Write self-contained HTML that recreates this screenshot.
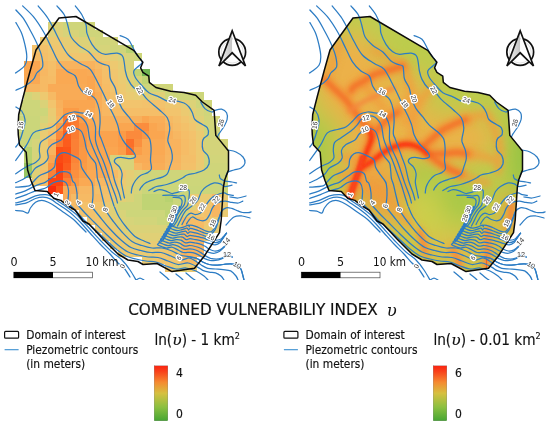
<!DOCTYPE html>
<html><head><meta charset="utf-8"><title>Combined vulnerability index</title>
<style>html,body{margin:0;padding:0;background:#fff}svg{display:block}</style></head>
<body><svg width="550" height="426" viewBox="0 0 550 426"><defs>
<clipPath id="mapL"><rect x="0" y="0" width="262" height="280"/></clipPath>
<clipPath id="mapR"><rect x="288" y="0" width="262" height="280"/></clipPath>
<clipPath id="domL"><polygon points="59.0,18.0 76.0,16.5 133.7,50.3 139.1,57.6 142.9,62.3 140.6,67.8 142.9,72.4 148.8,76.2 149.3,82.3 155.9,87.5 170.6,91.3 184.0,92.5 195.7,95.2 202.4,102.0 214.1,110.3 215.8,135.4 228.5,151.0 228.5,170.0 224.7,180.0 223.3,187.7 222.5,200.5 221.2,220.0 219.5,232.7 212.9,242.9 204.0,256.5 194.5,268.3 172.0,271.6 157.0,263.5 143.0,264.5 138.0,261.5 128.0,260.0 118.0,254.0 103.0,239.0 89.0,224.0 83.0,221.0 75.0,210.0 67.3,205.5 60.9,200.4 53.9,198.5 47.3,191.5 35.0,190.5 31.0,180.5 27.6,170.0 26.2,152.2 19.5,145.0 18.3,135.0 18.0,128.0 18.7,114.5 23.4,96.0 30.1,71.0 36.0,50.0"/></clipPath>
<clipPath id="domR"><polygon points="353.0,18.0 370.0,16.5 427.7,50.3 433.1,57.6 436.9,62.3 434.6,67.8 436.9,72.4 442.8,76.2 443.3,82.3 449.9,87.5 464.6,91.3 478.0,92.5 489.7,95.2 496.4,102.0 508.1,110.3 509.8,135.4 522.5,151.0 522.5,170.0 518.7,180.0 517.3,187.7 516.5,200.5 515.2,220.0 513.5,232.7 506.9,242.9 498.0,256.5 488.5,268.3 466.0,271.6 451.0,263.5 437.0,264.5 432.0,261.5 422.0,260.0 412.0,254.0 397.0,239.0 383.0,224.0 377.0,221.0 369.0,210.0 361.3,205.5 354.9,200.4 347.9,198.5 341.3,191.5 329.0,190.5 325.0,180.5 321.6,170.0 320.2,152.2 313.5,145.0 312.3,135.0 312.0,128.0 312.7,114.5 317.4,96.0 324.1,71.0 330.0,50.0"/></clipPath>
<linearGradient id="ngr" x1="0" y1="0" x2="1" y2="0"><stop offset="0" stop-color="#f4f4f4"/><stop offset="1" stop-color="#c4c4c4"/></linearGradient>
<linearGradient id="lg" x1="0" y1="0" x2="0" y2="1">
<stop offset="0" stop-color="#fb2410"/><stop offset="0.1" stop-color="#f9401a"/><stop offset="0.3" stop-color="#f58a30"/><stop offset="0.5" stop-color="#d6c040"/><stop offset="0.75" stop-color="#8cc040"/><stop offset="1" stop-color="#46a632"/></linearGradient>
<filter id="b12" x="-20%" y="-20%" width="140%" height="140%"><feGaussianBlur stdDeviation="12"/></filter>
<filter id="b7" x="-20%" y="-20%" width="140%" height="140%"><feGaussianBlur stdDeviation="7"/></filter>
<filter id="b4" x="-20%" y="-20%" width="140%" height="140%"><feGaussianBlur stdDeviation="3.5"/></filter>
<filter id="b2" x="-20%" y="-20%" width="140%" height="140%"><feGaussianBlur stdDeviation="2"/></filter>
<filter id="b1" x="-20%" y="-20%" width="140%" height="140%"><feGaussianBlur stdDeviation="1.1"/></filter>
</defs><rect width="550" height="426" fill="#fff"/><g shape-rendering="crispEdges"><rect x="47.67" y="21.70" width="7.98" height="7.98" fill="#dad278"/><rect x="55.50" y="21.70" width="7.98" height="7.98" fill="#dad278"/><rect x="63.33" y="21.70" width="7.98" height="7.98" fill="#cfd57a"/><rect x="71.15" y="21.70" width="7.98" height="7.98" fill="#cfd57a"/><rect x="78.97" y="21.70" width="7.98" height="7.98" fill="#cfd57a"/><rect x="86.80" y="21.70" width="7.98" height="7.98" fill="#cfd57a"/><rect x="47.67" y="29.52" width="7.98" height="7.98" fill="#e0d076"/><rect x="55.50" y="29.52" width="7.98" height="7.98" fill="#e0d076"/><rect x="63.33" y="29.52" width="7.98" height="7.98" fill="#d8d379"/><rect x="71.15" y="29.52" width="7.98" height="7.98" fill="#d8d379"/><rect x="78.97" y="29.52" width="7.98" height="7.98" fill="#cfd57a"/><rect x="86.80" y="29.52" width="7.98" height="7.98" fill="#cfd57a"/><rect x="94.62" y="29.52" width="7.98" height="7.98" fill="#cfd57a"/><rect x="39.85" y="37.35" width="7.98" height="7.98" fill="#edc970"/><rect x="47.67" y="37.35" width="7.98" height="7.98" fill="#edc970"/><rect x="55.50" y="37.35" width="7.98" height="7.98" fill="#edc970"/><rect x="63.33" y="37.35" width="7.98" height="7.98" fill="#e6cd74"/><rect x="71.15" y="37.35" width="7.98" height="7.98" fill="#e6cd74"/><rect x="78.97" y="37.35" width="7.98" height="7.98" fill="#dcd278"/><rect x="86.80" y="37.35" width="7.98" height="7.98" fill="#dcd278"/><rect x="94.62" y="37.35" width="7.98" height="7.98" fill="#d2d57a"/><rect x="102.45" y="37.35" width="7.98" height="7.98" fill="#d2d57a"/><rect x="110.28" y="37.35" width="7.98" height="7.98" fill="#d2d57a"/><rect x="32.02" y="45.17" width="7.98" height="7.98" fill="#f3c16a"/><rect x="39.85" y="45.17" width="7.98" height="7.98" fill="#f3c16a"/><rect x="47.67" y="45.17" width="7.98" height="7.98" fill="#f0c66f"/><rect x="55.50" y="45.17" width="7.98" height="7.98" fill="#f0c66f"/><rect x="63.33" y="45.17" width="7.98" height="7.98" fill="#eacb72"/><rect x="71.15" y="45.17" width="7.98" height="7.98" fill="#eacb72"/><rect x="78.97" y="45.17" width="7.98" height="7.98" fill="#e0d076"/><rect x="86.80" y="45.17" width="7.98" height="7.98" fill="#e0d076"/><rect x="94.62" y="45.17" width="7.98" height="7.98" fill="#d6d47a"/><rect x="102.45" y="45.17" width="7.98" height="7.98" fill="#d6d47a"/><rect x="110.28" y="45.17" width="7.98" height="7.98" fill="#cfd57a"/><rect x="118.10" y="45.17" width="7.98" height="7.98" fill="#cfd57a"/><rect x="125.92" y="45.17" width="7.98" height="7.98" fill="#b8d270"/><rect x="32.02" y="53.00" width="7.98" height="7.98" fill="#f6ba64"/><rect x="39.85" y="53.00" width="7.98" height="7.98" fill="#f4bf69"/><rect x="47.67" y="53.00" width="7.98" height="7.98" fill="#f2c46d"/><rect x="55.50" y="53.00" width="7.98" height="7.98" fill="#f1c56e"/><rect x="63.33" y="53.00" width="7.98" height="7.98" fill="#f1c56e"/><rect x="71.15" y="53.00" width="7.98" height="7.98" fill="#f0c66f"/><rect x="78.97" y="53.00" width="7.98" height="7.98" fill="#f0c66f"/><rect x="86.80" y="53.00" width="7.98" height="7.98" fill="#f1c56e"/><rect x="94.62" y="53.00" width="7.98" height="7.98" fill="#eec770"/><rect x="102.45" y="53.00" width="7.98" height="7.98" fill="#eacb72"/><rect x="110.28" y="53.00" width="7.98" height="7.98" fill="#e4ce74"/><rect x="118.10" y="53.00" width="7.98" height="7.98" fill="#dcd278"/><rect x="125.92" y="53.00" width="7.98" height="7.98" fill="#d6d47a"/><rect x="133.75" y="53.00" width="7.98" height="7.98" fill="#cdd67a"/><rect x="24.20" y="60.83" width="7.98" height="7.98" fill="#faa650"/><rect x="32.02" y="60.83" width="7.98" height="7.98" fill="#faa650"/><rect x="39.85" y="60.83" width="7.98" height="7.98" fill="#f6ba64"/><rect x="47.67" y="60.83" width="7.98" height="7.98" fill="#f4bf69"/><rect x="55.50" y="60.83" width="7.98" height="7.98" fill="#f8b35e"/><rect x="63.33" y="60.83" width="7.98" height="7.98" fill="#f8b35e"/><rect x="71.15" y="60.83" width="7.98" height="7.98" fill="#f8b35e"/><rect x="78.97" y="60.83" width="7.98" height="7.98" fill="#f8b35e"/><rect x="86.80" y="60.83" width="7.98" height="7.98" fill="#f8b35e"/><rect x="94.62" y="60.83" width="7.98" height="7.98" fill="#f6ba64"/><rect x="102.45" y="60.83" width="7.98" height="7.98" fill="#f3c16a"/><rect x="110.28" y="60.83" width="7.98" height="7.98" fill="#edc970"/><rect x="118.10" y="60.83" width="7.98" height="7.98" fill="#e4ce74"/><rect x="125.92" y="60.83" width="7.98" height="7.98" fill="#dad278"/><rect x="24.20" y="68.65" width="7.98" height="7.98" fill="#faa650"/><rect x="32.02" y="68.65" width="7.98" height="7.98" fill="#faa650"/><rect x="39.85" y="68.65" width="7.98" height="7.98" fill="#f7b762"/><rect x="47.67" y="68.65" width="7.98" height="7.98" fill="#f5be68"/><rect x="55.50" y="68.65" width="7.98" height="7.98" fill="#faa953"/><rect x="63.33" y="68.65" width="7.98" height="7.98" fill="#faa953"/><rect x="71.15" y="68.65" width="7.98" height="7.98" fill="#faa953"/><rect x="78.97" y="68.65" width="7.98" height="7.98" fill="#faa953"/><rect x="86.80" y="68.65" width="7.98" height="7.98" fill="#f9ab56"/><rect x="94.62" y="68.65" width="7.98" height="7.98" fill="#f7b560"/><rect x="102.45" y="68.65" width="7.98" height="7.98" fill="#f4bf69"/><rect x="110.28" y="68.65" width="7.98" height="7.98" fill="#f0c66f"/><rect x="118.10" y="68.65" width="7.98" height="7.98" fill="#e8cc73"/><rect x="125.92" y="68.65" width="7.98" height="7.98" fill="#dcd278"/><rect x="133.75" y="68.65" width="7.98" height="7.98" fill="#c0d474"/><rect x="141.57" y="68.65" width="7.98" height="7.98" fill="#70b452"/><rect x="24.20" y="76.47" width="7.98" height="7.98" fill="#faa953"/><rect x="32.02" y="76.47" width="7.98" height="7.98" fill="#faa953"/><rect x="39.85" y="76.47" width="7.98" height="7.98" fill="#f6ba64"/><rect x="47.67" y="76.47" width="7.98" height="7.98" fill="#f6bc66"/><rect x="55.50" y="76.47" width="7.98" height="7.98" fill="#faa953"/><rect x="63.33" y="76.47" width="7.98" height="7.98" fill="#faa953"/><rect x="71.15" y="76.47" width="7.98" height="7.98" fill="#faa953"/><rect x="78.97" y="76.47" width="7.98" height="7.98" fill="#faa953"/><rect x="86.80" y="76.47" width="7.98" height="7.98" fill="#faa650"/><rect x="94.62" y="76.47" width="7.98" height="7.98" fill="#f8b35e"/><rect x="102.45" y="76.47" width="7.98" height="7.98" fill="#f5be68"/><rect x="110.28" y="76.47" width="7.98" height="7.98" fill="#f1c56e"/><rect x="118.10" y="76.47" width="7.98" height="7.98" fill="#eacb72"/><rect x="125.92" y="76.47" width="7.98" height="7.98" fill="#e0d076"/><rect x="133.75" y="76.47" width="7.98" height="7.98" fill="#d6d47a"/><rect x="141.57" y="76.47" width="7.98" height="7.98" fill="#c0d474"/><rect x="24.20" y="84.30" width="7.98" height="7.98" fill="#f7b560"/><rect x="32.02" y="84.30" width="7.98" height="7.98" fill="#f7b560"/><rect x="39.85" y="84.30" width="7.98" height="7.98" fill="#f6ba64"/><rect x="47.67" y="84.30" width="7.98" height="7.98" fill="#f9ab56"/><rect x="55.50" y="84.30" width="7.98" height="7.98" fill="#f9ab56"/><rect x="63.33" y="84.30" width="7.98" height="7.98" fill="#f9ab56"/><rect x="71.15" y="84.30" width="7.98" height="7.98" fill="#f9ab56"/><rect x="78.97" y="84.30" width="7.98" height="7.98" fill="#f9ab56"/><rect x="86.80" y="84.30" width="7.98" height="7.98" fill="#faa650"/><rect x="94.62" y="84.30" width="7.98" height="7.98" fill="#f8b05b"/><rect x="102.45" y="84.30" width="7.98" height="7.98" fill="#f6bc66"/><rect x="110.28" y="84.30" width="7.98" height="7.98" fill="#f2c46d"/><rect x="118.10" y="84.30" width="7.98" height="7.98" fill="#edc970"/><rect x="125.92" y="84.30" width="7.98" height="7.98" fill="#e4ce74"/><rect x="133.75" y="84.30" width="7.98" height="7.98" fill="#dad278"/><rect x="141.57" y="84.30" width="7.98" height="7.98" fill="#cfd57a"/><rect x="149.40" y="84.30" width="7.98" height="7.98" fill="#cfd57a"/><rect x="157.22" y="84.30" width="7.98" height="7.98" fill="#cfd57a"/><rect x="165.05" y="84.30" width="7.98" height="7.98" fill="#cfd57a"/><rect x="24.20" y="92.12" width="7.98" height="7.98" fill="#d2d57a"/><rect x="32.02" y="92.12" width="7.98" height="7.98" fill="#dcd278"/><rect x="39.85" y="92.12" width="7.98" height="7.98" fill="#edc970"/><rect x="47.67" y="92.12" width="7.98" height="7.98" fill="#f6ba64"/><rect x="55.50" y="92.12" width="7.98" height="7.98" fill="#f9ab56"/><rect x="63.33" y="92.12" width="7.98" height="7.98" fill="#f9ab56"/><rect x="71.15" y="92.12" width="7.98" height="7.98" fill="#f9ab56"/><rect x="78.97" y="92.12" width="7.98" height="7.98" fill="#f9ab56"/><rect x="86.80" y="92.12" width="7.98" height="7.98" fill="#faa04b"/><rect x="94.62" y="92.12" width="7.98" height="7.98" fill="#f9ab56"/><rect x="102.45" y="92.12" width="7.98" height="7.98" fill="#f6ba64"/><rect x="110.28" y="92.12" width="7.98" height="7.98" fill="#f3c16a"/><rect x="118.10" y="92.12" width="7.98" height="7.98" fill="#eec770"/><rect x="125.92" y="92.12" width="7.98" height="7.98" fill="#eacb72"/><rect x="133.75" y="92.12" width="7.98" height="7.98" fill="#e6cd74"/><rect x="141.57" y="92.12" width="7.98" height="7.98" fill="#e0d076"/><rect x="149.40" y="92.12" width="7.98" height="7.98" fill="#e0d076"/><rect x="157.22" y="92.12" width="7.98" height="7.98" fill="#e0d076"/><rect x="165.05" y="92.12" width="7.98" height="7.98" fill="#cdd67a"/><rect x="172.88" y="92.12" width="7.98" height="7.98" fill="#cdd67a"/><rect x="180.70" y="92.12" width="7.98" height="7.98" fill="#cdd67a"/><rect x="188.53" y="92.12" width="7.98" height="7.98" fill="#cdd67a"/><rect x="196.35" y="92.12" width="7.98" height="7.98" fill="#cdd67a"/><rect x="24.20" y="99.95" width="7.98" height="7.98" fill="#cdd67a"/><rect x="32.02" y="99.95" width="7.98" height="7.98" fill="#cdd67a"/><rect x="39.85" y="99.95" width="7.98" height="7.98" fill="#dad278"/><rect x="47.67" y="99.95" width="7.98" height="7.98" fill="#f2c46d"/><rect x="55.50" y="99.95" width="7.98" height="7.98" fill="#f8b05b"/><rect x="63.33" y="99.95" width="7.98" height="7.98" fill="#faa650"/><rect x="71.15" y="99.95" width="7.98" height="7.98" fill="#faa650"/><rect x="78.97" y="99.95" width="7.98" height="7.98" fill="#faa650"/><rect x="86.80" y="99.95" width="7.98" height="7.98" fill="#faa650"/><rect x="94.62" y="99.95" width="7.98" height="7.98" fill="#f9ae58"/><rect x="102.45" y="99.95" width="7.98" height="7.98" fill="#f7b762"/><rect x="110.28" y="99.95" width="7.98" height="7.98" fill="#f4bf69"/><rect x="118.10" y="99.95" width="7.98" height="7.98" fill="#f2c46d"/><rect x="125.92" y="99.95" width="7.98" height="7.98" fill="#f2c46d"/><rect x="133.75" y="99.95" width="7.98" height="7.98" fill="#f2c46d"/><rect x="141.57" y="99.95" width="7.98" height="7.98" fill="#f3c26c"/><rect x="149.40" y="99.95" width="7.98" height="7.98" fill="#f3c26c"/><rect x="157.22" y="99.95" width="7.98" height="7.98" fill="#f3c26c"/><rect x="165.05" y="99.95" width="7.98" height="7.98" fill="#eec770"/><rect x="172.88" y="99.95" width="7.98" height="7.98" fill="#eec770"/><rect x="180.70" y="99.95" width="7.98" height="7.98" fill="#e6cd74"/><rect x="188.53" y="99.95" width="7.98" height="7.98" fill="#dcd278"/><rect x="196.35" y="99.95" width="7.98" height="7.98" fill="#cfd57a"/><rect x="204.18" y="99.95" width="7.98" height="7.98" fill="#cfd57a"/><rect x="24.20" y="107.78" width="7.98" height="7.98" fill="#cdd67a"/><rect x="32.02" y="107.78" width="7.98" height="7.98" fill="#cdd67a"/><rect x="39.85" y="107.78" width="7.98" height="7.98" fill="#cdd67a"/><rect x="47.67" y="107.78" width="7.98" height="7.98" fill="#eacb72"/><rect x="55.50" y="107.78" width="7.98" height="7.98" fill="#f8b35e"/><rect x="63.33" y="107.78" width="7.98" height="7.98" fill="#fb9b46"/><rect x="71.15" y="107.78" width="7.98" height="7.98" fill="#fb9b46"/><rect x="78.97" y="107.78" width="7.98" height="7.98" fill="#faa650"/><rect x="86.80" y="107.78" width="7.98" height="7.98" fill="#faa953"/><rect x="94.62" y="107.78" width="7.98" height="7.98" fill="#f8b05b"/><rect x="102.45" y="107.78" width="7.98" height="7.98" fill="#f7b762"/><rect x="110.28" y="107.78" width="7.98" height="7.98" fill="#f6bc66"/><rect x="118.10" y="107.78" width="7.98" height="7.98" fill="#f6bc66"/><rect x="125.92" y="107.78" width="7.98" height="7.98" fill="#f5be68"/><rect x="133.75" y="107.78" width="7.98" height="7.98" fill="#f5be68"/><rect x="141.57" y="107.78" width="7.98" height="7.98" fill="#f5be68"/><rect x="149.40" y="107.78" width="7.98" height="7.98" fill="#f5be68"/><rect x="157.22" y="107.78" width="7.98" height="7.98" fill="#f5be68"/><rect x="165.05" y="107.78" width="7.98" height="7.98" fill="#f2c46d"/><rect x="172.88" y="107.78" width="7.98" height="7.98" fill="#f2c46d"/><rect x="180.70" y="107.78" width="7.98" height="7.98" fill="#ebca71"/><rect x="188.53" y="107.78" width="7.98" height="7.98" fill="#e4ce74"/><rect x="196.35" y="107.78" width="7.98" height="7.98" fill="#d8d379"/><rect x="204.18" y="107.78" width="7.98" height="7.98" fill="#cfd57a"/><rect x="24.20" y="115.60" width="7.98" height="7.98" fill="#cbd67a"/><rect x="32.02" y="115.60" width="7.98" height="7.98" fill="#cbd67a"/><rect x="39.85" y="115.60" width="7.98" height="7.98" fill="#d6d47a"/><rect x="47.67" y="115.60" width="7.98" height="7.98" fill="#e6cd74"/><rect x="55.50" y="115.60" width="7.98" height="7.98" fill="#f7b762"/><rect x="63.33" y="115.60" width="7.98" height="7.98" fill="#fb7a30"/><rect x="71.15" y="115.60" width="7.98" height="7.98" fill="#fb7a30"/><rect x="78.97" y="115.60" width="7.98" height="7.98" fill="#fb9e49"/><rect x="86.80" y="115.60" width="7.98" height="7.98" fill="#faa953"/><rect x="94.62" y="115.60" width="7.98" height="7.98" fill="#f8b05b"/><rect x="102.45" y="115.60" width="7.98" height="7.98" fill="#f8b05b"/><rect x="110.28" y="115.60" width="7.98" height="7.98" fill="#f8b05b"/><rect x="118.10" y="115.60" width="7.98" height="7.98" fill="#f8b05b"/><rect x="125.92" y="115.60" width="7.98" height="7.98" fill="#f8b05b"/><rect x="133.75" y="115.60" width="7.98" height="7.98" fill="#f8b05b"/><rect x="141.57" y="115.60" width="7.98" height="7.98" fill="#faa650"/><rect x="149.40" y="115.60" width="7.98" height="7.98" fill="#f9ae58"/><rect x="157.22" y="115.60" width="7.98" height="7.98" fill="#f9ae58"/><rect x="165.05" y="115.60" width="7.98" height="7.98" fill="#f6ba64"/><rect x="172.88" y="115.60" width="7.98" height="7.98" fill="#f4bf69"/><rect x="180.70" y="115.60" width="7.98" height="7.98" fill="#f1c56e"/><rect x="188.53" y="115.60" width="7.98" height="7.98" fill="#ebca71"/><rect x="196.35" y="115.60" width="7.98" height="7.98" fill="#e0d076"/><rect x="204.18" y="115.60" width="7.98" height="7.98" fill="#d2d57a"/><rect x="212.00" y="115.60" width="7.98" height="7.98" fill="#d2d57a"/><rect x="24.20" y="123.42" width="7.98" height="7.98" fill="#cbd67a"/><rect x="32.02" y="123.42" width="7.98" height="7.98" fill="#cbd67a"/><rect x="39.85" y="123.42" width="7.98" height="7.98" fill="#e0d076"/><rect x="47.67" y="123.42" width="7.98" height="7.98" fill="#eec770"/><rect x="55.50" y="123.42" width="7.98" height="7.98" fill="#faa04b"/><rect x="63.33" y="123.42" width="7.98" height="7.98" fill="#fb6824"/><rect x="71.15" y="123.42" width="7.98" height="7.98" fill="#fb7d32"/><rect x="78.97" y="123.42" width="7.98" height="7.98" fill="#fb9542"/><rect x="86.80" y="123.42" width="7.98" height="7.98" fill="#faa650"/><rect x="94.62" y="123.42" width="7.98" height="7.98" fill="#f8b05b"/><rect x="102.45" y="123.42" width="7.98" height="7.98" fill="#f8b05b"/><rect x="110.28" y="123.42" width="7.98" height="7.98" fill="#f8b05b"/><rect x="118.10" y="123.42" width="7.98" height="7.98" fill="#faa650"/><rect x="125.92" y="123.42" width="7.98" height="7.98" fill="#faa650"/><rect x="133.75" y="123.42" width="7.98" height="7.98" fill="#fb8d3e"/><rect x="141.57" y="123.42" width="7.98" height="7.98" fill="#fb8d3e"/><rect x="149.40" y="123.42" width="7.98" height="7.98" fill="#faa650"/><rect x="157.22" y="123.42" width="7.98" height="7.98" fill="#f9ab56"/><rect x="165.05" y="123.42" width="7.98" height="7.98" fill="#f7b560"/><rect x="172.88" y="123.42" width="7.98" height="7.98" fill="#f6bc66"/><rect x="180.70" y="123.42" width="7.98" height="7.98" fill="#f3c16a"/><rect x="188.53" y="123.42" width="7.98" height="7.98" fill="#f0c66f"/><rect x="196.35" y="123.42" width="7.98" height="7.98" fill="#e6cd74"/><rect x="204.18" y="123.42" width="7.98" height="7.98" fill="#d2d57a"/><rect x="212.00" y="123.42" width="7.98" height="7.98" fill="#d2d57a"/><rect x="24.20" y="131.25" width="7.98" height="7.98" fill="#cbd67a"/><rect x="32.02" y="131.25" width="7.98" height="7.98" fill="#cbd67a"/><rect x="39.85" y="131.25" width="7.98" height="7.98" fill="#eacb72"/><rect x="47.67" y="131.25" width="7.98" height="7.98" fill="#f5be68"/><rect x="55.50" y="131.25" width="7.98" height="7.98" fill="#fb8a3c"/><rect x="63.33" y="131.25" width="7.98" height="7.98" fill="#fb601f"/><rect x="71.15" y="131.25" width="7.98" height="7.98" fill="#fb7d32"/><rect x="78.97" y="131.25" width="7.98" height="7.98" fill="#fb9542"/><rect x="86.80" y="131.25" width="7.98" height="7.98" fill="#faa34e"/><rect x="94.62" y="131.25" width="7.98" height="7.98" fill="#faa34e"/><rect x="102.45" y="131.25" width="7.98" height="7.98" fill="#faa34e"/><rect x="110.28" y="131.25" width="7.98" height="7.98" fill="#faa34e"/><rect x="118.10" y="131.25" width="7.98" height="7.98" fill="#fb9b46"/><rect x="125.92" y="131.25" width="7.98" height="7.98" fill="#fb8a3c"/><rect x="133.75" y="131.25" width="7.98" height="7.98" fill="#fb8a3c"/><rect x="141.57" y="131.25" width="7.98" height="7.98" fill="#fb9844"/><rect x="149.40" y="131.25" width="7.98" height="7.98" fill="#faa650"/><rect x="157.22" y="131.25" width="7.98" height="7.98" fill="#faa650"/><rect x="165.05" y="131.25" width="7.98" height="7.98" fill="#f8b05b"/><rect x="172.88" y="131.25" width="7.98" height="7.98" fill="#f7b762"/><rect x="180.70" y="131.25" width="7.98" height="7.98" fill="#f5be68"/><rect x="188.53" y="131.25" width="7.98" height="7.98" fill="#f3c26c"/><rect x="196.35" y="131.25" width="7.98" height="7.98" fill="#ebca71"/><rect x="204.18" y="131.25" width="7.98" height="7.98" fill="#d2d57a"/><rect x="212.00" y="131.25" width="7.98" height="7.98" fill="#d2d57a"/><rect x="24.20" y="139.07" width="7.98" height="7.98" fill="#cbd67a"/><rect x="32.02" y="139.07" width="7.98" height="7.98" fill="#d6d47a"/><rect x="39.85" y="139.07" width="7.98" height="7.98" fill="#eacb72"/><rect x="47.67" y="139.07" width="7.98" height="7.98" fill="#f8b35e"/><rect x="55.50" y="139.07" width="7.98" height="7.98" fill="#fb7a30"/><rect x="63.33" y="139.07" width="7.98" height="7.98" fill="#fc5c1d"/><rect x="71.15" y="139.07" width="7.98" height="7.98" fill="#fb8035"/><rect x="78.97" y="139.07" width="7.98" height="7.98" fill="#fb9542"/><rect x="86.80" y="139.07" width="7.98" height="7.98" fill="#faa34e"/><rect x="94.62" y="139.07" width="7.98" height="7.98" fill="#faa34e"/><rect x="102.45" y="139.07" width="7.98" height="7.98" fill="#faa34e"/><rect x="110.28" y="139.07" width="7.98" height="7.98" fill="#faa34e"/><rect x="118.10" y="139.07" width="7.98" height="7.98" fill="#fb9b46"/><rect x="125.92" y="139.07" width="7.98" height="7.98" fill="#fb6f29"/><rect x="133.75" y="139.07" width="7.98" height="7.98" fill="#fb903f"/><rect x="141.57" y="139.07" width="7.98" height="7.98" fill="#faa953"/><rect x="149.40" y="139.07" width="7.98" height="7.98" fill="#faa953"/><rect x="157.22" y="139.07" width="7.98" height="7.98" fill="#faa953"/><rect x="165.05" y="139.07" width="7.98" height="7.98" fill="#f8b35e"/><rect x="172.88" y="139.07" width="7.98" height="7.98" fill="#f8b35e"/><rect x="180.70" y="139.07" width="7.98" height="7.98" fill="#f6bc66"/><rect x="188.53" y="139.07" width="7.98" height="7.98" fill="#f3c16a"/><rect x="196.35" y="139.07" width="7.98" height="7.98" fill="#edc970"/><rect x="204.18" y="139.07" width="7.98" height="7.98" fill="#d4d47a"/><rect x="212.00" y="139.07" width="7.98" height="7.98" fill="#d4d47a"/><rect x="219.83" y="139.07" width="7.98" height="7.98" fill="#d4d47a"/><rect x="24.20" y="146.90" width="7.98" height="7.98" fill="#b8d270"/><rect x="32.02" y="146.90" width="7.98" height="7.98" fill="#d6d47a"/><rect x="39.85" y="146.90" width="7.98" height="7.98" fill="#eacb72"/><rect x="47.67" y="146.90" width="7.98" height="7.98" fill="#f8b35e"/><rect x="55.50" y="146.90" width="7.98" height="7.98" fill="#fc5016"/><rect x="63.33" y="146.90" width="7.98" height="7.98" fill="#fc5418"/><rect x="71.15" y="146.90" width="7.98" height="7.98" fill="#fb8035"/><rect x="78.97" y="146.90" width="7.98" height="7.98" fill="#fb9844"/><rect x="86.80" y="146.90" width="7.98" height="7.98" fill="#faa650"/><rect x="94.62" y="146.90" width="7.98" height="7.98" fill="#faa650"/><rect x="102.45" y="146.90" width="7.98" height="7.98" fill="#faa650"/><rect x="110.28" y="146.90" width="7.98" height="7.98" fill="#faa650"/><rect x="118.10" y="146.90" width="7.98" height="7.98" fill="#fb9e49"/><rect x="125.92" y="146.90" width="7.98" height="7.98" fill="#fb762e"/><rect x="133.75" y="146.90" width="7.98" height="7.98" fill="#fb9e49"/><rect x="141.57" y="146.90" width="7.98" height="7.98" fill="#faa953"/><rect x="149.40" y="146.90" width="7.98" height="7.98" fill="#faa953"/><rect x="157.22" y="146.90" width="7.98" height="7.98" fill="#faa953"/><rect x="165.05" y="146.90" width="7.98" height="7.98" fill="#f8b35e"/><rect x="172.88" y="146.90" width="7.98" height="7.98" fill="#f8b35e"/><rect x="180.70" y="146.90" width="7.98" height="7.98" fill="#f6bc66"/><rect x="188.53" y="146.90" width="7.98" height="7.98" fill="#f3c16a"/><rect x="196.35" y="146.90" width="7.98" height="7.98" fill="#edc970"/><rect x="204.18" y="146.90" width="7.98" height="7.98" fill="#d4d47a"/><rect x="212.00" y="146.90" width="7.98" height="7.98" fill="#d4d47a"/><rect x="219.83" y="146.90" width="7.98" height="7.98" fill="#d4d47a"/><rect x="24.20" y="154.72" width="7.98" height="7.98" fill="#b8d270"/><rect x="32.02" y="154.72" width="7.98" height="7.98" fill="#d6d47a"/><rect x="39.85" y="154.72" width="7.98" height="7.98" fill="#eacb72"/><rect x="47.67" y="154.72" width="7.98" height="7.98" fill="#faa650"/><rect x="55.50" y="154.72" width="7.98" height="7.98" fill="#fb4913"/><rect x="63.33" y="154.72" width="7.98" height="7.98" fill="#fc5418"/><rect x="71.15" y="154.72" width="7.98" height="7.98" fill="#fb8437"/><rect x="78.97" y="154.72" width="7.98" height="7.98" fill="#fb9844"/><rect x="86.80" y="154.72" width="7.98" height="7.98" fill="#faa650"/><rect x="94.62" y="154.72" width="7.98" height="7.98" fill="#faa650"/><rect x="102.45" y="154.72" width="7.98" height="7.98" fill="#faa650"/><rect x="110.28" y="154.72" width="7.98" height="7.98" fill="#d8d379"/><rect x="118.10" y="154.72" width="7.98" height="7.98" fill="#d8d379"/><rect x="125.92" y="154.72" width="7.98" height="7.98" fill="#d8d379"/><rect x="133.75" y="154.72" width="7.98" height="7.98" fill="#f9ab56"/><rect x="141.57" y="154.72" width="7.98" height="7.98" fill="#f9ab56"/><rect x="149.40" y="154.72" width="7.98" height="7.98" fill="#f9ab56"/><rect x="157.22" y="154.72" width="7.98" height="7.98" fill="#f9ab56"/><rect x="165.05" y="154.72" width="7.98" height="7.98" fill="#f7b560"/><rect x="172.88" y="154.72" width="7.98" height="7.98" fill="#f7b560"/><rect x="180.70" y="154.72" width="7.98" height="7.98" fill="#f4bf69"/><rect x="188.53" y="154.72" width="7.98" height="7.98" fill="#f4bf69"/><rect x="196.35" y="154.72" width="7.98" height="7.98" fill="#edc970"/><rect x="204.18" y="154.72" width="7.98" height="7.98" fill="#d2d57a"/><rect x="212.00" y="154.72" width="7.98" height="7.98" fill="#d2d57a"/><rect x="219.83" y="154.72" width="7.98" height="7.98" fill="#d2d57a"/><rect x="24.20" y="162.55" width="7.98" height="7.98" fill="#98c662"/><rect x="32.02" y="162.55" width="7.98" height="7.98" fill="#d6d47a"/><rect x="39.85" y="162.55" width="7.98" height="7.98" fill="#f1c56e"/><rect x="47.67" y="162.55" width="7.98" height="7.98" fill="#fb9844"/><rect x="55.50" y="162.55" width="7.98" height="7.98" fill="#fb4210"/><rect x="63.33" y="162.55" width="7.98" height="7.98" fill="#fc5c1d"/><rect x="71.15" y="162.55" width="7.98" height="7.98" fill="#fb8a3c"/><rect x="78.97" y="162.55" width="7.98" height="7.98" fill="#fb9b46"/><rect x="86.80" y="162.55" width="7.98" height="7.98" fill="#faa650"/><rect x="94.62" y="162.55" width="7.98" height="7.98" fill="#faa650"/><rect x="102.45" y="162.55" width="7.98" height="7.98" fill="#faa650"/><rect x="110.28" y="162.55" width="7.98" height="7.98" fill="#edc970"/><rect x="118.10" y="162.55" width="7.98" height="7.98" fill="#d8d379"/><rect x="125.92" y="162.55" width="7.98" height="7.98" fill="#d8d379"/><rect x="133.75" y="162.55" width="7.98" height="7.98" fill="#f7b762"/><rect x="141.57" y="162.55" width="7.98" height="7.98" fill="#f9ae58"/><rect x="149.40" y="162.55" width="7.98" height="7.98" fill="#f9ae58"/><rect x="157.22" y="162.55" width="7.98" height="7.98" fill="#f9ae58"/><rect x="165.05" y="162.55" width="7.98" height="7.98" fill="#f7b762"/><rect x="172.88" y="162.55" width="7.98" height="7.98" fill="#f7b762"/><rect x="180.70" y="162.55" width="7.98" height="7.98" fill="#f3c16a"/><rect x="188.53" y="162.55" width="7.98" height="7.98" fill="#f3c16a"/><rect x="196.35" y="162.55" width="7.98" height="7.98" fill="#ebca71"/><rect x="204.18" y="162.55" width="7.98" height="7.98" fill="#cfd57a"/><rect x="212.00" y="162.55" width="7.98" height="7.98" fill="#cfd57a"/><rect x="219.83" y="162.55" width="7.98" height="7.98" fill="#cfd57a"/><rect x="24.20" y="170.38" width="7.98" height="7.98" fill="#98c662"/><rect x="32.02" y="170.38" width="7.98" height="7.98" fill="#e0d076"/><rect x="39.85" y="170.38" width="7.98" height="7.98" fill="#f5be68"/><rect x="47.67" y="170.38" width="7.98" height="7.98" fill="#fb8035"/><rect x="55.50" y="170.38" width="7.98" height="7.98" fill="#fb4210"/><rect x="63.33" y="170.38" width="7.98" height="7.98" fill="#fb6f29"/><rect x="71.15" y="170.38" width="7.98" height="7.98" fill="#fb903f"/><rect x="78.97" y="170.38" width="7.98" height="7.98" fill="#faa04b"/><rect x="86.80" y="170.38" width="7.98" height="7.98" fill="#faa953"/><rect x="94.62" y="170.38" width="7.98" height="7.98" fill="#faa953"/><rect x="102.45" y="170.38" width="7.98" height="7.98" fill="#faa953"/><rect x="110.28" y="170.38" width="7.98" height="7.98" fill="#f6ba64"/><rect x="118.10" y="170.38" width="7.98" height="7.98" fill="#f0c66f"/><rect x="125.92" y="170.38" width="7.98" height="7.98" fill="#e6cd74"/><rect x="133.75" y="170.38" width="7.98" height="7.98" fill="#dcd278"/><rect x="141.57" y="170.38" width="7.98" height="7.98" fill="#cfd57a"/><rect x="149.40" y="170.38" width="7.98" height="7.98" fill="#cfd57a"/><rect x="157.22" y="170.38" width="7.98" height="7.98" fill="#cfd57a"/><rect x="165.05" y="170.38" width="7.98" height="7.98" fill="#cfd57a"/><rect x="172.88" y="170.38" width="7.98" height="7.98" fill="#cfd57a"/><rect x="180.70" y="170.38" width="7.98" height="7.98" fill="#cfd57a"/><rect x="188.53" y="170.38" width="7.98" height="7.98" fill="#cfd57a"/><rect x="196.35" y="170.38" width="7.98" height="7.98" fill="#cfd57a"/><rect x="204.18" y="170.38" width="7.98" height="7.98" fill="#cfd57a"/><rect x="212.00" y="170.38" width="7.98" height="7.98" fill="#cfd57a"/><rect x="219.83" y="170.38" width="7.98" height="7.98" fill="#cfd57a"/><rect x="32.02" y="178.20" width="7.98" height="7.98" fill="#eacb72"/><rect x="39.85" y="178.20" width="7.98" height="7.98" fill="#f5be68"/><rect x="47.67" y="178.20" width="7.98" height="7.98" fill="#fb4210"/><rect x="55.50" y="178.20" width="7.98" height="7.98" fill="#fb4210"/><rect x="63.33" y="178.20" width="7.98" height="7.98" fill="#fb8035"/><rect x="71.15" y="178.20" width="7.98" height="7.98" fill="#fb9844"/><rect x="78.97" y="178.20" width="7.98" height="7.98" fill="#faa953"/><rect x="86.80" y="178.20" width="7.98" height="7.98" fill="#faa953"/><rect x="94.62" y="178.20" width="7.98" height="7.98" fill="#f7b762"/><rect x="102.45" y="178.20" width="7.98" height="7.98" fill="#f7b762"/><rect x="110.28" y="178.20" width="7.98" height="7.98" fill="#f3c16a"/><rect x="118.10" y="178.20" width="7.98" height="7.98" fill="#edc970"/><rect x="125.92" y="178.20" width="7.98" height="7.98" fill="#e2cf75"/><rect x="133.75" y="178.20" width="7.98" height="7.98" fill="#d8d379"/><rect x="141.57" y="178.20" width="7.98" height="7.98" fill="#cdd67a"/><rect x="149.40" y="178.20" width="7.98" height="7.98" fill="#cdd67a"/><rect x="157.22" y="178.20" width="7.98" height="7.98" fill="#cdd67a"/><rect x="165.05" y="178.20" width="7.98" height="7.98" fill="#cdd67a"/><rect x="172.88" y="178.20" width="7.98" height="7.98" fill="#cdd67a"/><rect x="180.70" y="178.20" width="7.98" height="7.98" fill="#cdd67a"/><rect x="188.53" y="178.20" width="7.98" height="7.98" fill="#cdd67a"/><rect x="196.35" y="178.20" width="7.98" height="7.98" fill="#cdd67a"/><rect x="204.18" y="178.20" width="7.98" height="7.98" fill="#cdd67a"/><rect x="212.00" y="178.20" width="7.98" height="7.98" fill="#cdd67a"/><rect x="219.83" y="178.20" width="7.98" height="7.98" fill="#cdd67a"/><rect x="47.67" y="186.03" width="7.98" height="7.98" fill="#f62c0c"/><rect x="55.50" y="186.03" width="7.98" height="7.98" fill="#fc5418"/><rect x="63.33" y="186.03" width="7.98" height="7.98" fill="#f9ab56"/><rect x="71.15" y="186.03" width="7.98" height="7.98" fill="#f9ab56"/><rect x="78.97" y="186.03" width="7.98" height="7.98" fill="#f7b762"/><rect x="86.80" y="186.03" width="7.98" height="7.98" fill="#f7b762"/><rect x="94.62" y="186.03" width="7.98" height="7.98" fill="#f4bf69"/><rect x="102.45" y="186.03" width="7.98" height="7.98" fill="#f4bf69"/><rect x="110.28" y="186.03" width="7.98" height="7.98" fill="#f1c56e"/><rect x="118.10" y="186.03" width="7.98" height="7.98" fill="#e8cc73"/><rect x="125.92" y="186.03" width="7.98" height="7.98" fill="#ded177"/><rect x="133.75" y="186.03" width="7.98" height="7.98" fill="#d6d47a"/><rect x="141.57" y="186.03" width="7.98" height="7.98" fill="#cbd67a"/><rect x="149.40" y="186.03" width="7.98" height="7.98" fill="#cbd67a"/><rect x="157.22" y="186.03" width="7.98" height="7.98" fill="#cbd67a"/><rect x="165.05" y="186.03" width="7.98" height="7.98" fill="#cbd67a"/><rect x="172.88" y="186.03" width="7.98" height="7.98" fill="#cbd67a"/><rect x="180.70" y="186.03" width="7.98" height="7.98" fill="#cbd67a"/><rect x="188.53" y="186.03" width="7.98" height="7.98" fill="#cbd67a"/><rect x="196.35" y="186.03" width="7.98" height="7.98" fill="#cbd67a"/><rect x="204.18" y="186.03" width="7.98" height="7.98" fill="#cbd67a"/><rect x="212.00" y="186.03" width="7.98" height="7.98" fill="#cbd67a"/><rect x="219.83" y="186.03" width="7.98" height="7.98" fill="#cbd67a"/><rect x="63.33" y="193.85" width="7.98" height="7.98" fill="#f9ab56"/><rect x="71.15" y="193.85" width="7.98" height="7.98" fill="#f6ba64"/><rect x="78.97" y="193.85" width="7.98" height="7.98" fill="#f6ba64"/><rect x="86.80" y="193.85" width="7.98" height="7.98" fill="#f6ba64"/><rect x="94.62" y="193.85" width="7.98" height="7.98" fill="#f6ba64"/><rect x="102.45" y="193.85" width="7.98" height="7.98" fill="#f3c26c"/><rect x="110.28" y="193.85" width="7.98" height="7.98" fill="#edc970"/><rect x="118.10" y="193.85" width="7.98" height="7.98" fill="#e2cf75"/><rect x="125.92" y="193.85" width="7.98" height="7.98" fill="#dad278"/><rect x="133.75" y="193.85" width="7.98" height="7.98" fill="#cfd57a"/><rect x="141.57" y="193.85" width="7.98" height="7.98" fill="#c0d474"/><rect x="149.40" y="193.85" width="7.98" height="7.98" fill="#c0d474"/><rect x="157.22" y="193.85" width="7.98" height="7.98" fill="#c0d474"/><rect x="165.05" y="193.85" width="7.98" height="7.98" fill="#b8d270"/><rect x="172.88" y="193.85" width="7.98" height="7.98" fill="#cbd67a"/><rect x="180.70" y="193.85" width="7.98" height="7.98" fill="#cbd67a"/><rect x="188.53" y="193.85" width="7.98" height="7.98" fill="#eacb72"/><rect x="196.35" y="193.85" width="7.98" height="7.98" fill="#eacb72"/><rect x="204.18" y="193.85" width="7.98" height="7.98" fill="#eacb72"/><rect x="212.00" y="193.85" width="7.98" height="7.98" fill="#f7b762"/><rect x="219.83" y="193.85" width="7.98" height="7.98" fill="#eacb72"/><rect x="71.15" y="201.68" width="7.98" height="7.98" fill="#f6ba64"/><rect x="78.97" y="201.68" width="7.98" height="7.98" fill="#f3c16a"/><rect x="86.80" y="201.68" width="7.98" height="7.98" fill="#f3c16a"/><rect x="94.62" y="201.68" width="7.98" height="7.98" fill="#f3c16a"/><rect x="102.45" y="201.68" width="7.98" height="7.98" fill="#eec770"/><rect x="110.28" y="201.68" width="7.98" height="7.98" fill="#ded177"/><rect x="118.10" y="201.68" width="7.98" height="7.98" fill="#cfd57a"/><rect x="125.92" y="201.68" width="7.98" height="7.98" fill="#cfd57a"/><rect x="133.75" y="201.68" width="7.98" height="7.98" fill="#cfd57a"/><rect x="141.57" y="201.68" width="7.98" height="7.98" fill="#c0d474"/><rect x="149.40" y="201.68" width="7.98" height="7.98" fill="#c0d474"/><rect x="157.22" y="201.68" width="7.98" height="7.98" fill="#c0d474"/><rect x="165.05" y="201.68" width="7.98" height="7.98" fill="#c0d474"/><rect x="172.88" y="201.68" width="7.98" height="7.98" fill="#cbd67a"/><rect x="180.70" y="201.68" width="7.98" height="7.98" fill="#e0d076"/><rect x="188.53" y="201.68" width="7.98" height="7.98" fill="#e0d076"/><rect x="196.35" y="201.68" width="7.98" height="7.98" fill="#f0c66f"/><rect x="204.18" y="201.68" width="7.98" height="7.98" fill="#f0c66f"/><rect x="212.00" y="201.68" width="7.98" height="7.98" fill="#f8b05b"/><rect x="219.83" y="201.68" width="7.98" height="7.98" fill="#eacb72"/><rect x="78.97" y="209.50" width="7.98" height="7.98" fill="#f3c26c"/><rect x="86.80" y="209.50" width="7.98" height="7.98" fill="#f3c26c"/><rect x="94.62" y="209.50" width="7.98" height="7.98" fill="#edc970"/><rect x="102.45" y="209.50" width="7.98" height="7.98" fill="#edc970"/><rect x="110.28" y="209.50" width="7.98" height="7.98" fill="#e0d076"/><rect x="118.10" y="209.50" width="7.98" height="7.98" fill="#d8d379"/><rect x="125.92" y="209.50" width="7.98" height="7.98" fill="#cdd67a"/><rect x="133.75" y="209.50" width="7.98" height="7.98" fill="#cdd67a"/><rect x="141.57" y="209.50" width="7.98" height="7.98" fill="#cdd67a"/><rect x="149.40" y="209.50" width="7.98" height="7.98" fill="#cdd67a"/><rect x="157.22" y="209.50" width="7.98" height="7.98" fill="#cdd67a"/><rect x="165.05" y="209.50" width="7.98" height="7.98" fill="#c0d474"/><rect x="172.88" y="209.50" width="7.98" height="7.98" fill="#d6d47a"/><rect x="180.70" y="209.50" width="7.98" height="7.98" fill="#d6d47a"/><rect x="188.53" y="209.50" width="7.98" height="7.98" fill="#f0c66f"/><rect x="196.35" y="209.50" width="7.98" height="7.98" fill="#f0c66f"/><rect x="204.18" y="209.50" width="7.98" height="7.98" fill="#f3c16a"/><rect x="212.00" y="209.50" width="7.98" height="7.98" fill="#f7b762"/><rect x="219.83" y="209.50" width="7.98" height="7.98" fill="#eacb72"/><rect x="86.80" y="217.33" width="7.98" height="7.98" fill="#f1c56e"/><rect x="94.62" y="217.33" width="7.98" height="7.98" fill="#f1c56e"/><rect x="102.45" y="217.33" width="7.98" height="7.98" fill="#ebca71"/><rect x="110.28" y="217.33" width="7.98" height="7.98" fill="#e4ce74"/><rect x="118.10" y="217.33" width="7.98" height="7.98" fill="#dcd278"/><rect x="125.92" y="217.33" width="7.98" height="7.98" fill="#d6d47a"/><rect x="133.75" y="217.33" width="7.98" height="7.98" fill="#d2d57a"/><rect x="141.57" y="217.33" width="7.98" height="7.98" fill="#d2d57a"/><rect x="149.40" y="217.33" width="7.98" height="7.98" fill="#d2d57a"/><rect x="157.22" y="217.33" width="7.98" height="7.98" fill="#cbd67a"/><rect x="165.05" y="217.33" width="7.98" height="7.98" fill="#cbd67a"/><rect x="172.88" y="217.33" width="7.98" height="7.98" fill="#d6d47a"/><rect x="180.70" y="217.33" width="7.98" height="7.98" fill="#f6bc66"/><rect x="188.53" y="217.33" width="7.98" height="7.98" fill="#f6bc66"/><rect x="196.35" y="217.33" width="7.98" height="7.98" fill="#f6bc66"/><rect x="204.18" y="217.33" width="7.98" height="7.98" fill="#f0c66f"/><rect x="212.00" y="217.33" width="7.98" height="7.98" fill="#eacb72"/><rect x="94.62" y="225.15" width="7.98" height="7.98" fill="#f0c66f"/><rect x="102.45" y="225.15" width="7.98" height="7.98" fill="#f0c66f"/><rect x="110.28" y="225.15" width="7.98" height="7.98" fill="#eacb72"/><rect x="118.10" y="225.15" width="7.98" height="7.98" fill="#e2cf75"/><rect x="125.92" y="225.15" width="7.98" height="7.98" fill="#dad278"/><rect x="133.75" y="225.15" width="7.98" height="7.98" fill="#dad278"/><rect x="141.57" y="225.15" width="7.98" height="7.98" fill="#dad278"/><rect x="149.40" y="225.15" width="7.98" height="7.98" fill="#dad278"/><rect x="157.22" y="225.15" width="7.98" height="7.98" fill="#dad278"/><rect x="165.05" y="225.15" width="7.98" height="7.98" fill="#dad278"/><rect x="172.88" y="225.15" width="7.98" height="7.98" fill="#dad278"/><rect x="180.70" y="225.15" width="7.98" height="7.98" fill="#f6ba64"/><rect x="188.53" y="225.15" width="7.98" height="7.98" fill="#f6ba64"/><rect x="196.35" y="225.15" width="7.98" height="7.98" fill="#f6ba64"/><rect x="204.18" y="225.15" width="7.98" height="7.98" fill="#eacb72"/><rect x="212.00" y="225.15" width="7.98" height="7.98" fill="#eacb72"/><rect x="102.45" y="232.97" width="7.98" height="7.98" fill="#eec770"/><rect x="110.28" y="232.97" width="7.98" height="7.98" fill="#eec770"/><rect x="118.10" y="232.97" width="7.98" height="7.98" fill="#eacb72"/><rect x="125.92" y="232.97" width="7.98" height="7.98" fill="#e4ce74"/><rect x="133.75" y="232.97" width="7.98" height="7.98" fill="#e0d076"/><rect x="141.57" y="232.97" width="7.98" height="7.98" fill="#e0d076"/><rect x="149.40" y="232.97" width="7.98" height="7.98" fill="#e0d076"/><rect x="157.22" y="232.97" width="7.98" height="7.98" fill="#e0d076"/><rect x="165.05" y="232.97" width="7.98" height="7.98" fill="#e0d076"/><rect x="172.88" y="232.97" width="7.98" height="7.98" fill="#e0d076"/><rect x="180.70" y="232.97" width="7.98" height="7.98" fill="#f7b560"/><rect x="188.53" y="232.97" width="7.98" height="7.98" fill="#f7b560"/><rect x="196.35" y="232.97" width="7.98" height="7.98" fill="#f7b560"/><rect x="204.18" y="232.97" width="7.98" height="7.98" fill="#eacb72"/><rect x="110.28" y="240.80" width="7.98" height="7.98" fill="#edc970"/><rect x="118.10" y="240.80" width="7.98" height="7.98" fill="#edc970"/><rect x="125.92" y="240.80" width="7.98" height="7.98" fill="#e8cc73"/><rect x="133.75" y="240.80" width="7.98" height="7.98" fill="#e8cc73"/><rect x="141.57" y="240.80" width="7.98" height="7.98" fill="#e8cc73"/><rect x="149.40" y="240.80" width="7.98" height="7.98" fill="#e8cc73"/><rect x="157.22" y="240.80" width="7.98" height="7.98" fill="#ebca71"/><rect x="165.05" y="240.80" width="7.98" height="7.98" fill="#ebca71"/><rect x="172.88" y="240.80" width="7.98" height="7.98" fill="#ebca71"/><rect x="180.70" y="240.80" width="7.98" height="7.98" fill="#f8b35e"/><rect x="188.53" y="240.80" width="7.98" height="7.98" fill="#f8b35e"/><rect x="196.35" y="240.80" width="7.98" height="7.98" fill="#f8b35e"/><rect x="118.10" y="248.62" width="7.98" height="7.98" fill="#edc970"/><rect x="125.92" y="248.62" width="7.98" height="7.98" fill="#edc970"/><rect x="133.75" y="248.62" width="7.98" height="7.98" fill="#edc970"/><rect x="141.57" y="248.62" width="7.98" height="7.98" fill="#eacb72"/><rect x="149.40" y="248.62" width="7.98" height="7.98" fill="#eacb72"/><rect x="157.22" y="248.62" width="7.98" height="7.98" fill="#eec770"/><rect x="165.05" y="248.62" width="7.98" height="7.98" fill="#eec770"/><rect x="172.88" y="248.62" width="7.98" height="7.98" fill="#eec770"/><rect x="180.70" y="248.62" width="7.98" height="7.98" fill="#f8b35e"/><rect x="188.53" y="248.62" width="7.98" height="7.98" fill="#f8b35e"/><rect x="196.35" y="248.62" width="7.98" height="7.98" fill="#f8b35e"/><rect x="141.57" y="256.45" width="7.98" height="7.98" fill="#ebca71"/><rect x="149.40" y="256.45" width="7.98" height="7.98" fill="#ebca71"/><rect x="157.22" y="256.45" width="7.98" height="7.98" fill="#f0c66f"/><rect x="165.05" y="256.45" width="7.98" height="7.98" fill="#f0c66f"/><rect x="172.88" y="256.45" width="7.98" height="7.98" fill="#f0c66f"/><rect x="180.70" y="256.45" width="7.98" height="7.98" fill="#f6ba64"/><rect x="188.53" y="256.45" width="7.98" height="7.98" fill="#f6ba64"/><rect x="165.05" y="264.27" width="7.98" height="7.98" fill="#f1c56e"/><rect x="172.88" y="264.27" width="7.98" height="7.98" fill="#e0d076"/><rect x="180.70" y="264.27" width="7.98" height="7.98" fill="#e0d076"/><rect x="188.53" y="264.27" width="7.98" height="7.98" fill="#edc970"/></g><g clip-path="url(#domL)"><rect x="16.38" y="99.95" width="7.98" height="7.98" fill="#cdd67a"/><rect x="16.38" y="107.78" width="7.98" height="7.98" fill="#cdd67a"/><rect x="16.38" y="115.60" width="7.98" height="7.98" fill="#cbd67a"/><rect x="16.38" y="123.42" width="7.98" height="7.98" fill="#cbd67a"/><rect x="16.38" y="131.25" width="7.98" height="7.98" fill="#cbd67a"/><rect x="16.38" y="139.07" width="7.98" height="7.98" fill="#cbd67a"/></g><g clip-path="url(#domR)"><rect x="300" y="10" width="250" height="270" fill="#bccc4c"/><g filter="url(#b12)"><ellipse cx="350" cy="78" rx="36" ry="46" fill="#ecb148" transform="rotate(0 350 78)"/><ellipse cx="392" cy="100" rx="40" ry="30" fill="#e8b54a" transform="rotate(-20 392 100)"/><ellipse cx="405" cy="135" rx="48" ry="24" fill="#e9b54a" transform="rotate(0 405 135)"/><ellipse cx="458" cy="138" rx="38" ry="26" fill="#eab348" transform="rotate(0 458 138)"/><ellipse cx="375" cy="180" rx="30" ry="20" fill="#eea942" transform="rotate(0 375 180)"/><ellipse cx="360" cy="150" rx="16" ry="40" fill="#efad46" transform="rotate(0 360 150)"/><ellipse cx="446" cy="204" rx="24" ry="22" fill="#a4c746" transform="rotate(0 446 204)"/><ellipse cx="430" cy="215" rx="20" ry="16" fill="#b4cd4a" transform="rotate(0 430 215)"/><ellipse cx="422" cy="170" rx="14" ry="14" fill="#a6c946" transform="rotate(0 422 170)"/><ellipse cx="470" cy="195" rx="30" ry="10" fill="#b0cb48" transform="rotate(0 470 195)"/><ellipse cx="505" cy="72" rx="44" ry="11" fill="#86bf3e" transform="rotate(22 505 72)"/><ellipse cx="524" cy="150" rx="9" ry="55" fill="#80bd3c" transform="rotate(0 524 150)"/><ellipse cx="317" cy="150" rx="9" ry="32" fill="#a0c344" transform="rotate(0 317 150)"/><ellipse cx="380" cy="22" rx="30" ry="8" fill="#c0cf52" transform="rotate(0 380 22)"/><ellipse cx="468" cy="250" rx="48" ry="15" fill="#e2bb4c" transform="rotate(0 468 250)"/><ellipse cx="415" cy="232" rx="42" ry="11" fill="#e4b548" transform="rotate(42 415 232)"/><ellipse cx="508" cy="214" rx="9" ry="24" fill="#efa53e" transform="rotate(0 508 214)"/><ellipse cx="428" cy="215" rx="24" ry="26" fill="#cccf4c" transform="rotate(0 428 215)"/><ellipse cx="456" cy="200" rx="15" ry="11" fill="#9cc544" transform="rotate(0 456 200)"/><ellipse cx="385" cy="215" rx="30" ry="9" fill="#ecab44" transform="rotate(40 385 215)"/><ellipse cx="376" cy="193" rx="27" ry="13" fill="#f0963a" transform="rotate(32 376 193)"/></g><g fill="none" stroke-linecap="round" stroke-linejoin="round"><g filter="url(#b4)" stroke="#f29c3c" stroke-width="7" opacity="0.85"><path d="M466.0,119.5C467.8,118.9 473.4,116.9 477.0,116.0C480.6,115.1 485.7,114.3 487.4,114.0"/><path d="M468.0,153.8C470.3,154.2 477.5,154.9 482.0,156.0C486.5,157.1 492.8,159.8 495.0,160.5"/><path d="M339.0,44.0C338.2,46.7 335.7,54.8 334.0,60.0C332.3,65.2 329.8,72.5 329.0,75.0"/><path d="M374.0,50.0C376.3,51.2 383.0,54.4 388.0,57.0C393.0,59.6 400.8,62.5 404.0,65.8C407.2,69.1 406.0,72.3 407.3,76.7C408.6,81.1 410.2,86.9 411.6,92.0C413.1,97.1 415.6,101.8 416.0,107.3C416.4,112.8 415.0,119.5 414.0,125.0C413.0,130.4 410.7,137.5 410.0,140.0"/><path d="M398.2,111.6C399.5,110.2 403.7,105.6 406.0,103.0C408.3,100.4 411.0,97.2 412.0,96.0"/><path d="M404.7,122.8C406.9,119.9 413.4,111.2 417.8,105.4C422.2,99.6 428.7,90.8 430.9,87.9"/><path d="M363.0,82.0C364.5,84.2 368.5,90.7 372.0,95.0C375.5,99.3 382.0,105.8 384.0,108.0"/><path d="M419.5,230.0C420.4,232.6 423.5,241.2 424.6,245.5C425.7,249.8 425.8,254.2 426.0,256.0"/><path d="M452.0,248.0C453.0,249.8 456.5,256.0 457.8,259.0C459.1,262.0 459.6,264.8 460.0,266.0"/><path d="M511.0,203.0C511.0,205.0 511.7,210.8 511.0,215.0C510.3,219.2 507.7,225.8 507.0,228.0"/><path d="M488.0,232.0C488.0,235.0 488.2,244.0 488.0,250.0C487.8,256.0 486.9,264.8 486.7,267.8"/><path d="M357.5,183.0C359.4,183.7 365.1,185.6 369.0,187.3C372.9,189.0 377.3,190.9 380.7,193.0C384.1,195.1 386.6,197.2 389.5,200.0C392.4,202.8 394.6,206.0 398.0,210.0C401.4,214.0 408.0,221.7 410.0,224.0"/><path d="M395.3,146.5C395.8,148.4 397.0,153.3 398.2,158.2C399.4,163.0 401.1,169.3 402.5,175.6C403.9,181.9 406.2,192.6 406.9,196.0"/><path d="M487.0,114.0C488.3,116.7 492.8,124.0 495.0,130.0C497.2,136.0 499.5,143.0 500.0,150.0C500.5,157.0 498.3,168.3 498.0,172.0"/><path d="M462.0,175.0C464.2,175.8 470.7,178.7 475.0,180.0C479.3,181.3 485.8,182.5 488.0,183.0"/><path d="M361.8,164.0C360.2,163.2 355.1,160.2 352.0,159.0C348.9,157.8 344.5,157.3 343.0,157.0"/><path d="M356.0,178.5C354.5,178.1 349.7,176.8 347.0,176.0C344.3,175.2 341.2,174.3 340.0,174.0"/></g><g filter="url(#b4)" stroke="#f48e34" stroke-width="10"><path d="M351.0,91.0C351.5,90.2 351.9,88.2 354.0,86.5C356.1,84.8 360.2,83.1 363.6,81.1C367.0,79.1 370.9,76.1 374.5,74.5C378.1,72.9 381.9,72.4 385.5,71.3C389.1,70.2 393.5,68.9 396.4,68.0C399.3,67.1 401.9,66.3 403.0,66.0"/><path d="M370.0,130.0C368.9,128.9 365.9,126.4 363.3,123.3C360.7,120.2 357.4,115.5 354.5,111.6C351.6,107.7 349.4,104.0 345.8,100.0C342.2,96.0 336.7,91.1 333.1,87.6C329.5,84.1 325.8,80.4 324.4,78.9"/><path d="M422.0,148.0C422.8,147.2 425.1,144.7 427.0,143.0C428.9,141.3 430.6,139.9 433.1,137.8C435.6,135.7 437.9,132.9 441.8,130.5C445.7,128.1 452.4,125.1 456.4,123.3C460.4,121.5 464.4,120.1 466.0,119.5"/><path d="M427.3,153.8C429.7,153.8 437.0,154.0 441.8,153.8C446.6,153.6 452.0,152.4 456.4,152.4C460.8,152.4 466.1,153.6 468.0,153.8"/><path d="M426.8,153.5C428.8,155.0 434.9,159.8 438.9,162.5C442.8,165.2 446.8,167.9 450.5,169.8C454.2,171.8 459.2,173.5 461.0,174.2"/><path d="M371.5,138.5C373.0,136.4 377.7,129.7 380.7,126.2C383.7,122.7 386.6,119.9 389.5,117.5C392.4,115.1 396.8,112.6 398.2,111.6"/><path d="M346.5,203.0C347.1,201.8 349.2,198.3 350.2,196.0C351.2,193.7 351.5,191.9 352.5,189.0C353.5,186.1 354.4,182.7 356.0,178.5C357.6,174.3 359.9,168.8 361.8,164.0C363.7,159.2 366.0,153.8 367.6,149.5C369.2,145.2 371.1,141.8 371.5,138.5C371.9,135.2 370.2,131.4 370.0,130.0"/><path d="M360.4,168.4C362.3,167.2 368.1,163.8 372.0,161.1C375.9,158.4 379.7,154.8 383.6,152.4C387.5,150.0 391.4,147.9 395.3,146.5C399.2,145.1 403.3,144.2 406.9,144.2C410.5,144.2 414.2,145.4 417.1,146.5C420.0,147.6 422.8,149.7 424.4,150.9C426.0,152.1 426.4,153.1 426.8,153.5"/></g><g filter="url(#b2)" stroke="#f36c28" stroke-width="3.6"><path d="M351.0,91.0C351.5,90.2 351.9,88.2 354.0,86.5C356.1,84.8 360.2,83.1 363.6,81.1C367.0,79.1 370.9,76.1 374.5,74.5C378.1,72.9 381.9,72.4 385.5,71.3C389.1,70.2 393.5,68.9 396.4,68.0C399.3,67.1 401.9,66.3 403.0,66.0"/><path d="M370.0,130.0C368.9,128.9 365.9,126.4 363.3,123.3C360.7,120.2 357.4,115.5 354.5,111.6C351.6,107.7 349.4,104.0 345.8,100.0C342.2,96.0 336.7,91.1 333.1,87.6C329.5,84.1 325.8,80.4 324.4,78.9"/><path d="M422.0,148.0C422.8,147.2 425.1,144.7 427.0,143.0C428.9,141.3 430.6,139.9 433.1,137.8C435.6,135.7 437.9,132.9 441.8,130.5C445.7,128.1 452.4,125.1 456.4,123.3C460.4,121.5 464.4,120.1 466.0,119.5"/><path d="M427.3,153.8C429.7,153.8 437.0,154.0 441.8,153.8C446.6,153.6 452.0,152.4 456.4,152.4C460.8,152.4 466.1,153.6 468.0,153.8"/><path d="M426.8,153.5C428.8,155.0 434.9,159.8 438.9,162.5C442.8,165.2 446.8,167.9 450.5,169.8C454.2,171.8 459.2,173.5 461.0,174.2"/><path d="M371.5,138.5C373.0,136.4 377.7,129.7 380.7,126.2C383.7,122.7 386.6,119.9 389.5,117.5C392.4,115.1 396.8,112.6 398.2,111.6"/></g><g filter="url(#b2)" stroke="#f5863c" stroke-width="4"><path d="M349.0,111.0C350.5,110.0 355.0,106.8 358.0,105.0C361.0,103.2 363.3,101.8 367.0,100.0C370.7,98.2 375.5,96.0 380.0,94.0C384.5,92.0 391.7,89.0 394.0,88.0"/><path d="M487.5,228.0C487.5,230.8 487.6,240.0 487.5,245.0C487.4,250.0 487.0,254.0 486.8,258.0C486.6,262.0 486.4,267.2 486.3,269.0"/><path d="M420.0,232.0C420.5,233.7 422.2,238.7 423.0,242.0C423.8,245.3 424.7,250.3 425.0,252.0"/><path d="M453.0,250.0C453.8,251.5 456.6,256.3 457.8,259.0C459.0,261.7 459.6,264.8 460.0,266.0"/><path d="M511.0,203.0C511.0,205.0 511.5,211.2 511.0,215.0C510.5,218.8 508.5,224.2 508.0,226.0"/></g><g filter="url(#b1)" stroke="#f6561e" stroke-width="3"><path d="M486.8,258.0 L486.3,270.0"/></g><g filter="url(#b2)" stroke="#f5541e" stroke-width="6"><path d="M346.5,203.0C347.1,201.8 349.2,198.3 350.2,196.0C351.2,193.7 351.5,191.9 352.5,189.0C353.5,186.1 354.4,182.7 356.0,178.5C357.6,174.3 359.9,168.8 361.8,164.0C363.7,159.2 366.0,153.8 367.6,149.5C369.2,145.2 371.1,141.8 371.5,138.5C371.9,135.2 370.2,131.4 370.0,130.0"/><path d="M360.4,168.4C362.3,167.2 368.1,163.8 372.0,161.1C375.9,158.4 379.7,154.8 383.6,152.4C387.5,150.0 391.4,147.9 395.3,146.5C399.2,145.1 403.3,144.2 406.9,144.2C410.5,144.2 414.2,145.4 417.1,146.5C420.0,147.6 422.8,149.7 424.4,150.9C426.0,152.1 426.4,153.1 426.8,153.5"/></g><g filter="url(#b1)" stroke="#fa3e12" stroke-width="3.4"><path d="M346.5,203.0C347.1,201.8 349.2,198.3 350.2,196.0C351.2,193.7 351.5,191.9 352.5,189.0C353.5,186.1 354.4,182.7 356.0,178.5C357.6,174.3 359.9,168.8 361.8,164.0C363.7,159.2 366.0,153.8 367.6,149.5C369.2,145.2 371.1,141.8 371.5,138.5C371.9,135.2 370.2,131.4 370.0,130.0"/><path d="M360.4,168.4C362.3,167.2 368.1,163.8 372.0,161.1C375.9,158.4 379.7,154.8 383.6,152.4C387.5,150.0 391.4,147.9 395.3,146.5C399.2,145.1 403.3,144.2 406.9,144.2C410.5,144.2 414.2,145.4 417.1,146.5C420.0,147.6 422.8,149.7 424.4,150.9C426.0,152.1 426.4,153.1 426.8,153.5"/></g><g filter="url(#b1)" stroke="#f9441a" stroke-width="4.6"><path d="M346.5,203.0C347.1,201.8 349.2,198.3 350.2,196.0C351.2,193.7 351.5,191.9 352.5,189.0C353.5,186.1 354.8,182.0 356.0,178.5C357.2,175.0 358.5,171.6 359.5,168.0C360.5,164.4 361.6,158.8 362.0,157.0"/></g></g></g><g clip-path="url(#mapL)" fill="none" stroke="#2c7cc4" stroke-width="1.25" stroke-linecap="round" stroke-linejoin="round"><path d="M15.9,22.6C16.9,24.4 20.2,29.7 21.7,33.4C23.2,37.1 24.1,41.1 25.0,45.0C25.9,48.9 26.8,53.5 26.8,56.9C26.8,60.3 26.4,62.9 25.0,65.2C23.6,67.5 20.0,69.7 18.4,71.0C16.8,72.3 16.0,72.7 15.5,73.0"/><path d="M15.9,10.0C17.1,11.4 20.9,14.8 23.4,18.4C25.9,22.0 28.6,27.4 31.0,31.8C33.4,36.2 35.8,40.8 37.6,45.0C39.4,49.2 41.0,53.2 41.8,56.9C42.6,60.5 43.4,64.2 42.6,66.9C41.8,69.6 38.3,70.9 36.8,73.0C35.3,75.1 35.4,77.2 33.4,79.4C31.4,81.6 27.9,84.2 25.0,86.0C22.1,87.8 17.4,89.5 15.9,90.2"/><path d="M22.6,5.9C24.4,7.7 29.9,12.4 33.4,16.7C36.9,21.0 40.4,26.5 43.5,31.8C46.6,37.1 49.3,43.5 51.8,48.5C54.3,53.5 56.0,58.1 58.5,61.9C61.0,65.7 64.1,68.7 66.9,71.0C69.7,73.3 73.3,73.5 75.3,76.0C77.2,78.5 77.2,83.2 78.6,86.0C80.0,88.8 81.4,91.0 83.6,92.7C85.8,94.4 89.9,94.8 92.0,96.0C94.1,97.2 94.8,97.7 96.0,100.0C97.2,102.3 98.6,106.4 99.3,110.0C100.0,113.6 100.1,117.8 100.1,121.7C100.1,125.6 99.1,130.5 99.3,133.4C99.5,136.3 100.2,136.3 101.2,138.9C102.2,141.5 103.8,145.9 105.0,149.1C106.2,152.3 107.1,155.0 108.2,158.0C109.3,161.0 110.3,163.2 111.4,166.9C112.5,170.7 113.4,176.3 114.6,180.5C115.8,184.7 117.7,188.9 118.8,192.2C119.9,195.4 120.6,198.7 121.0,200.0"/><path d="M38.1,5.9C39.5,7.7 44.2,12.9 46.8,16.7C49.4,20.4 51.3,24.2 53.5,28.4C55.7,32.6 57.7,37.3 60.2,41.8C62.7,46.3 65.2,51.6 68.6,55.2C71.9,58.8 76.7,61.1 80.3,63.5C83.9,65.9 87.1,65.7 90.3,69.4C93.5,73.2 97.1,81.6 99.5,86.0C101.9,90.4 102.9,92.5 104.5,96.0C106.1,99.5 107.8,103.5 109.3,106.7C110.8,109.9 112.1,111.9 113.5,115.0C114.9,118.1 116.6,121.8 117.7,125.1C118.8,128.4 119.0,132.0 120.2,135.1C121.5,138.2 123.2,141.0 125.2,143.5C127.2,146.0 130.3,148.5 131.9,150.2C133.5,151.9 134.0,152.6 134.6,153.7C135.2,154.8 136.0,156.2 135.3,157.0C134.6,157.8 132.9,158.6 130.5,158.7C128.1,158.8 123.4,157.4 120.9,157.4C118.5,157.4 116.8,157.8 115.8,158.6C114.8,159.4 114.0,160.9 114.6,162.3C115.2,163.7 118.3,165.2 119.6,167.1C120.8,169.0 121.8,171.3 122.1,173.8C122.4,176.3 121.2,179.3 121.3,182.1C121.4,184.9 122.4,187.8 122.9,190.5C123.4,193.2 124.2,196.8 124.5,198.0"/><path d="M56.9,5.9C58.1,7.4 62.6,11.8 64.4,15.0C66.2,18.2 66.6,21.4 67.7,25.0C68.8,28.6 69.2,33.4 71.0,36.8C72.8,40.2 75.7,42.7 78.6,45.2C81.5,47.7 85.5,49.2 88.6,51.8C91.7,54.4 94.5,58.9 97.0,61.0C99.5,63.1 101.8,63.6 103.7,64.4C105.7,65.2 107.7,64.9 108.7,66.0C109.7,67.1 109.3,68.8 109.6,71.0C109.9,73.2 109.6,76.2 110.5,79.0C111.4,81.8 114.0,84.8 115.2,88.0C116.4,91.2 116.4,94.6 117.5,98.0C118.6,101.4 120.1,105.3 121.9,108.4C123.8,111.5 126.4,113.9 128.6,116.7C130.8,119.5 132.8,122.6 135.3,125.1C137.8,127.6 141.2,129.6 143.6,131.8C146.0,134.0 148.2,135.7 149.5,138.5C150.8,141.3 150.9,144.8 151.1,148.5C151.3,152.2 150.4,157.0 150.5,160.4C150.6,163.8 152.0,166.7 151.4,168.8C150.8,170.9 149.0,171.8 147.2,172.9C145.4,174.0 142.4,174.1 140.5,175.4C138.6,176.7 136.9,178.5 135.5,180.5C134.1,182.5 132.8,185.1 132.1,187.2C131.4,189.3 131.4,192.0 131.3,193.0"/><path d="M75.3,5.9C76.4,7.4 80.2,11.8 82.0,15.0C83.8,18.2 85.3,21.9 86.1,25.0C86.9,28.1 86.0,30.2 87.0,33.4C88.0,36.6 90.0,41.2 92.0,44.3C94.0,47.4 96.5,50.1 98.7,51.8C100.9,53.5 102.4,54.1 105.4,54.3C108.5,54.5 114.1,52.8 117.0,53.2C119.9,53.6 121.6,53.9 123.0,56.9C124.4,59.9 124.6,67.2 125.4,71.0C126.2,74.8 126.6,76.6 128.0,79.4C129.4,82.2 131.9,85.9 133.8,87.7C135.8,89.5 137.5,88.2 139.7,90.2C141.9,92.2 144.0,96.2 147.2,99.4C150.4,102.6 155.6,106.4 158.9,109.5C162.2,112.6 165.5,114.7 167.3,117.8C169.1,120.9 169.7,124.6 169.8,127.9C169.9,131.2 168.4,135.6 168.1,137.9C167.8,140.2 167.5,139.9 168.1,142.0C168.7,144.1 170.7,147.6 171.4,150.4C172.1,153.2 172.6,155.9 172.3,158.7C172.0,161.5 170.6,164.6 169.8,167.1C169.0,169.6 168.6,172.1 167.3,173.8C166.0,175.5 164.4,176.1 162.2,177.1C160.0,178.1 156.7,178.6 153.9,179.6C151.1,180.6 147.6,181.7 145.5,183.0C143.4,184.3 142.3,186.0 141.3,187.2C140.3,188.4 140.0,189.5 139.7,190.0"/><path d="M120.1,35.6C121.4,36.2 125.8,37.3 128.0,39.3C130.2,41.3 131.5,45.1 133.0,47.7C134.5,50.4 135.7,52.8 137.2,55.2C138.7,57.6 141.9,60.1 142.2,61.9C142.5,63.7 140.2,64.5 138.8,66.0C137.4,67.5 134.4,69.0 133.8,71.0C133.2,73.0 134.1,75.2 135.5,77.7C136.9,80.2 140.0,83.5 142.2,86.0C144.4,88.5 146.1,90.9 148.9,92.7C151.7,94.5 155.8,95.5 158.9,96.9C162.0,98.3 165.1,100.5 167.3,101.1C169.5,101.7 169.5,100.0 172.3,100.3C175.1,100.6 181.2,101.9 184.0,103.0C186.8,104.1 187.6,105.4 189.0,107.0C190.4,108.6 191.4,110.7 192.4,112.8C193.4,114.9 193.2,117.5 194.9,119.5C196.6,121.5 200.3,123.1 202.4,124.5C204.5,125.9 206.4,126.2 207.4,127.9C208.4,129.6 208.8,132.8 208.2,134.5C207.6,136.2 205.0,136.8 204.0,138.0C203.0,139.2 202.6,140.0 202.4,142.0C202.2,144.0 202.1,147.7 203.0,150.0C203.9,152.3 207.0,153.7 208.0,156.0C209.0,158.3 209.7,161.7 209.0,164.0C208.3,166.3 206.2,168.5 204.0,170.0C201.8,171.5 198.8,172.2 196.0,173.0C193.2,173.8 189.2,174.2 187.1,175.0C185.0,175.8 185.2,176.4 183.3,177.5C181.4,178.6 178.4,180.2 175.6,181.4C172.8,182.6 169.9,183.7 166.7,184.5C163.5,185.3 159.0,185.8 156.5,186.5C154.0,187.2 152.8,188.3 151.5,189.0C150.2,189.7 149.3,190.2 148.9,190.5"/><path d="M200.7,102.0C201.4,103.1 203.1,106.9 204.9,108.6C206.7,110.3 209.9,111.7 211.6,112.0C213.3,112.3 213.3,110.8 215.0,110.3C216.7,109.8 219.7,108.7 221.6,109.1C223.5,109.5 225.7,111.1 226.6,112.8C227.5,114.5 227.5,117.3 227.1,119.5C226.7,121.7 225.4,123.8 224.1,126.2C222.8,128.6 220.2,131.9 219.1,133.7C218.0,135.5 217.7,136.4 217.4,137.0"/><path d="M15.9,107.0C16.9,107.7 20.2,108.9 21.7,111.0C23.2,113.1 24.7,116.4 25.0,119.5C25.3,122.6 24.4,125.8 23.4,129.5C22.4,133.2 20.5,139.1 19.2,142.0C17.9,144.9 16.3,146.2 15.7,147.1"/><path d="M15.7,160.5C17.5,157.9 23.6,149.8 26.5,145.2C29.4,140.6 30.6,135.5 33.4,132.9C36.2,130.3 40.4,130.5 43.5,129.5C46.6,128.5 49.3,128.4 51.8,127.0C54.3,125.6 56.3,123.3 58.5,121.2C60.7,119.1 62.7,116.0 65.2,114.5C67.7,113.0 71.1,112.3 73.6,112.0C76.1,111.7 77.8,112.5 80.3,112.8C82.8,113.1 86.5,113.1 88.6,114.0C90.6,114.9 91.4,116.3 92.6,118.4C93.8,120.5 95.0,123.2 95.5,126.8C96.0,130.4 95.0,136.3 95.5,140.2C96.0,144.1 97.3,147.0 98.6,150.4C99.9,153.8 101.8,157.3 103.1,160.5C104.4,163.7 105.1,165.9 106.3,169.5C107.5,173.1 108.9,177.8 110.4,182.1C111.9,186.4 114.2,192.0 115.4,195.5C116.6,199.0 117.2,201.8 117.5,203.0"/><path d="M15.7,173.8C17.5,172.6 23.2,168.7 26.5,166.8C29.8,164.9 33.3,163.9 35.5,162.4C37.7,160.9 39.3,159.9 39.9,157.9C40.5,155.9 39.2,152.9 39.3,150.3C39.4,147.8 39.2,144.7 40.5,142.6C41.8,140.5 44.1,139.8 46.8,137.9C49.5,136.0 54.1,133.2 56.9,131.0C59.7,128.8 61.8,126.4 63.5,124.5C65.2,122.6 65.6,120.8 67.0,119.5C68.4,118.2 70.1,117.0 72.0,116.5C73.9,116.0 76.7,115.7 78.6,116.2C80.5,116.7 82.1,117.9 83.6,119.5C85.1,121.1 86.5,122.8 87.5,126.0C88.5,129.2 88.7,135.1 89.7,138.9C90.7,142.8 92.1,145.7 93.5,149.1C94.9,152.5 96.6,155.9 98.0,159.3C99.4,162.7 100.3,165.4 101.8,169.5C103.3,173.6 105.4,179.2 107.0,183.8C108.6,188.4 110.0,193.5 111.2,197.2C112.4,200.9 113.5,204.5 114.0,206.0"/><path d="M15.7,182.7C16.9,182.2 20.2,180.9 22.7,179.5C25.1,178.1 28.3,176.4 30.4,174.5C32.5,172.6 33.2,170.0 35.5,168.1C37.8,166.2 42.3,164.7 44.4,163.0C46.5,161.3 47.7,160.0 48.2,157.9C48.7,155.8 46.9,152.5 47.5,150.3C48.1,148.1 49.8,146.2 52.0,144.5C54.2,142.8 58.7,141.8 60.9,140.1C63.1,138.3 63.5,135.8 65.2,134.0C66.9,132.2 69.1,130.4 71.0,129.5C72.9,128.6 74.7,128.2 76.4,128.5C78.2,128.8 80.1,129.6 81.5,131.5C82.9,133.4 83.8,137.3 84.6,140.2C85.4,143.1 85.5,146.3 86.5,149.1C87.5,151.8 88.9,154.4 90.4,156.7C91.9,159.0 94.5,160.8 95.5,163.1C96.5,165.4 96.4,168.1 96.7,170.7C97.0,173.2 97.0,176.2 97.4,178.4C97.8,180.6 98.5,181.2 99.3,184.0C100.1,186.8 101.1,191.9 102.0,195.5C102.9,199.1 103.8,203.1 104.5,205.5C105.2,207.9 105.9,209.2 106.2,210.0"/><path d="M15.7,187.2C17.9,187.0 26.2,186.8 29.1,185.9C32.0,185.1 31.2,183.8 32.9,182.1C34.6,180.4 36.8,177.4 39.3,175.7C41.8,174.0 45.7,173.4 48.2,171.9C50.7,170.4 53.2,168.9 54.5,166.8C55.8,164.7 54.9,161.3 55.8,159.2C56.6,157.1 57.9,155.2 59.6,154.1C61.3,153.0 63.9,152.6 66.0,152.8C68.1,153.0 70.1,154.2 72.4,155.4C74.7,156.6 78.5,157.9 80.0,159.8C81.5,161.7 80.6,164.7 81.5,166.9C82.4,169.2 84.0,171.4 85.3,173.3C86.6,175.2 87.9,176.6 89.1,178.4C90.3,180.2 91.6,181.2 92.3,184.0C93.0,186.8 93.0,191.5 93.0,195.0C93.0,198.5 92.2,203.3 92.0,205.0"/><path d="M15.7,194.0C17.3,193.5 22.2,192.1 25.3,190.8C28.4,189.5 31.7,187.6 34.2,186.4C36.7,185.2 38.6,184.5 40.5,183.8C42.4,183.1 43.3,183.4 45.6,182.1C47.9,180.8 52.0,177.4 54.5,175.7C57.0,174.0 58.4,172.3 60.9,171.9C63.4,171.5 67.9,171.7 69.8,173.2C71.7,174.7 71.6,179.1 72.5,180.9C73.4,182.7 74.3,182.0 75.1,184.0C75.8,186.0 76.7,190.0 77.0,193.0C77.3,196.0 77.0,200.5 77.0,202.0"/><path d="M15.7,198.5C17.5,197.8 23.2,195.9 26.5,194.6C29.8,193.3 32.7,191.8 35.5,190.8C38.3,189.9 41.2,189.5 43.1,188.9C45.0,188.3 45.2,188.2 46.9,187.2C48.6,186.2 51.0,183.8 53.3,182.7C55.6,181.6 58.8,180.8 60.9,180.8C63.0,180.8 64.7,181.2 66.0,182.7C67.3,184.2 68.2,187.1 68.5,190.0C68.8,192.9 68.1,198.3 68.0,200.0"/><path d="M15.7,202.9C17.3,202.5 22.0,201.6 25.3,200.4C28.6,199.2 32.1,196.9 35.5,195.9C38.9,194.9 42.9,194.5 45.6,194.6C48.4,194.7 50.1,195.5 52.0,196.5C53.9,197.5 55.2,199.0 57.1,200.4C59.0,201.8 61.4,203.3 63.5,204.8C65.6,206.3 67.7,207.7 69.8,209.3C71.9,210.9 74.0,212.4 76.2,214.4C78.4,216.4 80.7,219.1 83.0,221.5C85.3,223.9 87.2,225.9 90.0,229.0C92.8,232.1 96.3,236.2 100.0,240.0C103.7,243.8 108.3,248.7 112.0,252.0C115.7,255.3 119.0,257.0 122.0,260.0C125.0,263.0 127.7,266.7 130.0,270.0C132.3,273.3 135.0,278.3 136.0,280.0"/><path d="M15.7,204.8C17.5,204.5 23.2,204.0 26.5,202.9C29.8,201.8 32.7,199.4 35.5,198.5C38.3,197.6 40.6,197.1 43.1,197.2C45.6,197.3 48.4,198.0 50.7,199.1C53.0,200.2 54.8,201.9 57.1,203.5C59.4,205.1 62.0,206.6 64.7,208.6C67.5,210.6 70.7,213.0 73.6,215.6C76.5,218.2 79.3,221.1 82.0,224.0C84.7,226.9 87.0,229.7 90.0,233.0C93.0,236.3 96.7,240.5 100.0,244.0C103.3,247.5 107.0,250.8 110.0,254.0C113.0,257.2 115.7,260.7 118.0,263.0C120.3,265.3 122.0,265.7 124.0,268.0C126.0,270.3 129.0,275.5 130.0,277.0"/><path d="M15.7,210.5C16.9,210.6 20.7,210.8 22.7,211.2C24.7,211.6 26.5,213.6 27.8,213.1C29.1,212.6 29.1,209.8 30.4,208.0C31.7,206.2 33.6,203.6 35.5,202.3C37.4,201.0 39.7,200.4 41.8,200.4C43.9,200.4 45.9,201.2 48.2,202.3C50.5,203.4 53.0,204.9 55.8,206.7C58.5,208.5 61.7,211.0 64.7,213.1C67.7,215.2 71.0,217.3 73.6,219.5C76.1,221.7 77.9,223.9 80.0,226.0C82.1,228.1 85.0,231.0 86.0,232.0"/><path d="M68.0,203.0C69.3,204.3 73.3,208.2 76.0,211.0C78.7,213.8 81.3,217.3 84.0,220.0C86.7,222.7 88.7,224.0 92.0,227.0C95.3,230.0 100.0,234.3 104.0,238.0C108.0,241.7 112.3,246.0 116.0,249.0C119.7,252.0 122.7,254.3 126.0,256.0C129.3,257.7 132.7,258.2 136.0,259.0C139.3,259.8 142.7,260.5 146.0,261.0C149.3,261.5 152.7,261.2 156.0,262.0C159.3,262.8 162.7,264.8 166.0,266.0C169.3,267.2 172.7,268.7 176.0,269.0C179.3,269.3 182.7,267.7 186.0,268.0C189.3,268.3 193.0,269.7 196.0,271.0C199.0,272.3 202.0,274.5 204.0,276.0C206.0,277.5 207.3,279.3 208.0,280.0"/><path d="M77.0,204.0C78.3,205.5 82.2,210.0 85.0,213.0C87.8,216.0 90.5,218.5 94.0,222.0C97.5,225.5 102.0,230.2 106.0,234.0C110.0,237.8 114.3,242.0 118.0,245.0C121.7,248.0 124.7,250.3 128.0,252.0C131.3,253.7 134.7,254.2 138.0,255.0C141.3,255.8 144.7,256.6 148.0,257.0C151.3,257.4 154.7,256.8 158.0,257.5C161.3,258.2 164.7,259.8 168.0,261.0C171.3,262.2 174.7,264.2 178.0,264.5C181.3,264.8 184.7,262.6 188.0,263.0C191.3,263.4 195.2,265.9 197.6,267.1C200.0,268.3 200.8,269.5 202.7,270.3C204.6,271.1 207.0,271.8 209.1,272.2C211.2,272.6 213.5,272.2 215.5,272.8C217.5,273.4 219.6,274.8 221.0,276.0C222.4,277.2 223.5,279.3 224.0,280.0"/><path d="M92.0,207.0C93.3,208.7 97.0,213.3 100.0,217.0C103.0,220.7 106.5,225.2 110.0,229.0C113.5,232.8 117.5,236.9 121.0,240.0C124.5,243.1 127.7,245.8 131.0,247.5C134.3,249.2 137.7,249.7 141.0,250.5C144.3,251.3 147.7,252.2 151.0,252.5C154.3,252.8 157.7,251.9 161.0,252.5C164.3,253.1 167.7,254.8 171.0,256.0C174.3,257.2 178.0,259.7 181.0,260.0C184.0,260.3 186.7,257.9 189.0,258.0C191.3,258.1 193.0,259.5 195.1,260.7C197.2,261.9 199.4,263.9 201.5,265.2C203.6,266.5 205.5,267.8 207.8,268.4C210.1,269.0 212.9,268.8 215.5,269.0C218.1,269.2 220.6,269.3 223.1,269.6C225.6,269.9 228.5,269.8 230.7,270.9C232.8,272.0 234.8,274.5 236.0,276.0C237.2,277.5 237.7,279.3 238.0,280.0"/><path d="M106.0,211.0C107.2,212.7 110.3,217.5 113.0,221.0C115.7,224.5 118.8,228.6 122.0,232.0C125.2,235.4 128.7,239.2 132.0,241.5C135.3,243.8 138.7,244.4 142.0,245.5C145.3,246.6 148.7,247.6 152.0,248.0C155.3,248.4 158.7,247.5 162.0,248.0C165.3,248.5 169.0,249.8 172.0,251.0C175.0,252.2 177.0,254.0 180.0,255.0C183.0,256.0 187.3,256.4 190.0,256.9C192.7,257.4 194.3,257.3 196.4,258.2C198.5,259.1 200.6,260.9 202.7,262.0C204.8,263.1 207.0,264.0 209.1,264.5C211.2,265.0 213.2,265.2 215.5,265.2C217.8,265.2 220.6,264.7 223.1,264.5C225.6,264.3 228.4,263.7 230.7,263.9C233.0,264.1 235.4,264.6 237.1,265.5C238.8,266.4 239.9,267.2 240.9,269.0C241.9,270.8 242.5,274.2 243.0,276.0C243.5,277.8 243.8,279.3 244.0,280.0"/><path d="M114.5,207.0C115.2,208.7 116.9,213.5 119.0,217.0C121.1,220.5 124.3,224.8 127.0,228.0C129.7,231.2 132.2,234.3 135.0,236.5C137.8,238.7 141.5,239.8 144.0,241.0C146.5,242.2 149.0,243.1 150.0,243.5"/><path d="M154.0,191.5C154.8,191.2 157.2,189.7 159.1,189.6C161.0,189.5 163.4,190.2 165.5,190.9C167.6,191.6 169.7,193.3 171.8,193.5C173.9,193.7 176.1,192.7 178.2,192.2C180.3,191.7 182.7,190.6 184.5,190.3C186.3,190.0 188.2,189.0 189.0,190.3C189.8,191.6 189.2,195.5 189.0,197.9C188.8,200.3 188.6,202.9 187.7,204.9C186.8,206.9 184.7,208.2 183.3,210.0C181.9,211.8 180.7,213.7 179.5,215.7C178.3,217.7 177.4,220.3 176.3,222.1C175.2,223.9 173.6,225.8 173.0,226.5"/><path d="M162.9,195.4C164.2,195.3 167.9,195.0 170.5,195.1C173.1,195.2 176.1,195.9 178.2,196.0C180.3,196.1 182.1,195.1 183.3,195.4C184.5,195.7 185.0,196.4 185.2,197.9C185.4,199.4 185.2,202.4 184.5,204.3C183.8,206.2 181.9,207.7 180.7,209.4C179.5,211.1 178.6,212.6 177.5,214.5C176.4,216.4 175.3,219.1 174.4,220.8C173.5,222.6 172.2,224.3 171.8,225.0"/><path d="M173.1,197.3C174.2,197.4 178.0,197.4 179.5,197.9C181.0,198.4 181.7,199.2 182.0,200.5C182.3,201.8 181.9,203.9 181.4,205.5C180.9,207.1 179.7,208.5 178.8,210.0C178.0,211.5 177.2,212.9 176.3,214.5C175.5,216.1 174.6,217.9 173.7,219.5C172.8,221.1 171.4,223.2 171.0,224.0"/><path d="M179.8,206.5C179.4,207.3 178.3,209.8 177.6,211.5C176.9,213.2 175.7,215.3 175.4,216.5C175.1,217.7 176.6,217.8 176.0,218.7C175.4,219.6 173.1,221.2 172.0,222.2C170.9,223.2 169.2,223.8 169.5,224.5C169.8,225.2 172.0,225.9 173.5,226.5C175.0,227.1 176.8,228.0 178.5,228.1C180.2,228.2 181.8,227.6 183.5,227.1C185.2,226.6 187.5,225.1 188.5,225.1C189.5,225.1 189.0,226.9 189.2,226.9C189.5,226.9 188.9,225.2 190.0,225.1C191.1,225.0 193.9,225.7 195.7,226.3C197.5,226.9 199.2,227.9 201.0,228.7C202.7,229.5 204.5,230.6 206.2,231.1C208.0,231.6 209.9,232.4 211.4,231.8C212.8,231.1 214.0,228.9 215.0,227.3C215.9,225.7 216.5,223.8 217.3,222.0C218.0,220.2 218.7,218.4 219.5,216.6C220.2,214.8 220.4,212.6 221.6,211.2C222.7,209.7 224.5,208.4 226.2,207.9C227.9,207.4 230.0,208.0 231.8,208.4C233.7,208.9 235.4,210.0 237.2,210.7C239.0,211.3 240.8,212.2 242.6,212.5C244.5,212.8 246.9,212.7 248.3,212.6C249.7,212.5 250.6,212.0 251.1,211.9"/><path d="M179.5,206.9C179.2,207.7 178.1,209.9 177.3,211.5C176.6,213.1 175.6,214.9 175.1,216.5C174.6,218.1 175.3,219.8 174.5,221.2C173.7,222.6 171.6,223.7 170.5,224.7C169.4,225.7 167.8,226.3 168.0,227.0C168.2,227.7 170.5,228.4 172.0,229.0C173.5,229.6 175.3,230.5 177.0,230.6C178.7,230.7 180.3,230.0 182.0,229.6C183.7,229.2 185.9,228.0 187.0,228.1C188.1,228.2 188.0,230.0 188.5,230.1C189.0,230.2 188.8,228.6 190.0,228.5C191.2,228.4 193.7,229.1 195.5,229.6C197.3,230.1 199.0,230.9 200.8,231.6C202.5,232.2 204.3,233.1 206.0,233.5C207.8,233.9 209.7,234.6 211.2,233.9C212.6,233.3 213.9,231.5 215.0,229.8C216.1,228.1 216.8,225.7 217.5,223.6C218.3,221.5 218.9,219.2 219.6,217.1C220.2,215.1 221.2,212.2 221.6,211.2"/><path d="M179.2,207.3C178.9,208.0 177.8,210.0 177.1,211.5C176.4,213.0 175.5,214.5 174.8,216.5C174.2,218.5 174.0,221.9 173.0,223.7C172.0,225.5 170.1,226.2 169.0,227.2C167.9,228.2 166.2,228.8 166.5,229.5C166.8,230.2 169.0,230.9 170.5,231.5C172.0,232.1 173.8,233.0 175.5,233.1C177.2,233.2 178.8,232.4 180.5,232.1C182.2,231.8 184.3,230.9 185.5,231.1C186.7,231.3 187.0,233.2 187.8,233.3C188.5,233.4 188.7,232.0 190.0,231.9C191.3,231.8 193.6,232.5 195.4,232.9C197.2,233.3 198.9,233.9 200.6,234.5C202.3,235.0 204.1,235.7 205.8,236.4C207.4,237.1 209.1,237.9 210.7,238.6C212.3,239.2 213.7,239.9 215.2,240.1C216.8,240.2 218.6,240.0 219.9,239.5C221.3,239.0 222.2,237.8 223.3,236.8C224.4,235.8 225.9,233.8 226.5,233.2"/><path d="M179.0,207.7C178.6,208.3 177.6,210.0 176.8,211.5C176.1,213.0 175.5,214.1 174.6,216.5C173.7,218.9 172.7,224.0 171.5,226.2C170.3,228.4 168.6,228.7 167.5,229.7C166.4,230.7 164.8,231.3 165.0,232.0C165.2,232.7 167.5,233.4 169.0,234.0C170.5,234.6 172.3,235.5 174.0,235.6C175.7,235.7 177.3,234.8 179.0,234.6C180.7,234.3 182.7,233.8 184.0,234.1C185.3,234.4 186.0,236.3 187.0,236.5C188.0,236.7 188.6,235.3 190.0,235.3C191.4,235.3 193.5,235.9 195.2,236.2C197.0,236.6 198.7,236.9 200.4,237.3C202.2,237.8 203.9,238.2 205.6,238.8C207.2,239.4 208.9,240.1 210.5,240.7C212.1,241.4 213.7,242.5 215.3,242.6C216.9,242.6 218.8,242.0 220.2,241.1C221.5,240.3 222.3,238.7 223.4,237.3C224.4,236.0 225.9,233.9 226.5,233.2"/><path d="M178.7,208.1C178.3,208.7 177.3,210.1 176.6,211.5C175.9,212.9 175.4,213.6 174.3,216.5C173.2,219.4 171.4,226.1 170.0,228.7C168.6,231.3 167.1,231.2 166.0,232.2C164.9,233.2 163.2,233.8 163.5,234.5C163.8,235.2 166.0,235.9 167.5,236.5C169.0,237.1 170.8,238.0 172.5,238.1C174.2,238.2 175.8,237.3 177.5,237.1C179.2,236.9 181.0,236.7 182.5,237.1C184.0,237.5 185.0,239.4 186.2,239.7C187.5,240.0 188.5,238.7 190.0,238.7C191.5,238.7 193.5,239.3 195.2,239.6C196.9,239.9 198.7,240.2 200.4,240.6C202.1,241.0 203.7,241.6 205.3,242.1C207.0,242.6 208.5,243.3 210.2,243.7C211.8,244.2 213.5,245.1 215.1,244.9C216.8,244.7 218.8,243.7 220.2,242.5C221.5,241.3 222.4,239.4 223.4,237.8C224.5,236.3 225.9,234.0 226.5,233.2"/><path d="M178.4,208.5C178.1,209.0 177.1,210.2 176.3,211.5C175.6,212.8 175.3,213.2 174.0,216.5C172.7,219.8 170.1,228.2 168.5,231.2C166.9,234.2 165.6,233.7 164.5,234.7C163.4,235.7 161.8,236.3 162.0,237.0C162.2,237.7 164.5,238.4 166.0,239.0C167.5,239.6 169.3,240.5 171.0,240.6C172.7,240.7 174.3,239.7 176.0,239.6C177.7,239.5 179.4,239.5 181.0,240.1C182.6,240.7 184.0,242.6 185.5,242.9C187.0,243.2 188.4,242.1 190.0,242.1C191.6,242.1 193.5,242.7 195.2,243.0C196.9,243.3 198.7,243.5 200.4,244.1C202.0,244.6 203.5,245.5 205.1,246.3C206.6,247.2 208.0,248.5 209.5,249.3C211.1,250.1 212.7,250.9 214.4,251.0C216.0,251.1 217.9,250.7 219.5,250.1C221.0,249.5 222.3,248.2 223.7,247.1C225.0,246.1 226.9,244.2 227.5,243.6"/><path d="M178.1,208.9C177.8,209.3 176.8,210.2 176.1,211.5C175.4,212.8 175.2,212.8 173.7,216.5C172.2,220.2 168.8,230.2 167.0,233.7C165.2,237.1 164.1,236.2 163.0,237.2C161.9,238.2 160.2,238.8 160.5,239.5C160.8,240.2 163.0,240.9 164.5,241.5C166.0,242.1 167.8,243.0 169.5,243.1C171.2,243.2 172.8,242.1 174.5,242.1C176.2,242.1 177.8,242.4 179.5,243.1C181.2,243.8 183.0,245.7 184.8,246.1C186.5,246.5 188.2,245.4 190.0,245.5C191.8,245.6 193.6,246.0 195.4,246.5C197.1,246.9 198.9,247.5 200.5,248.3C202.1,249.0 203.6,250.0 205.2,250.7C206.7,251.4 208.2,252.3 209.8,252.7C211.4,253.1 213.0,253.4 214.7,253.2C216.4,252.9 218.2,252.2 219.7,251.3C221.2,250.3 222.5,248.8 223.8,247.5C225.1,246.3 226.9,244.3 227.5,243.6"/><path d="M177.8,209.3C177.5,209.7 176.6,210.3 175.8,211.5C175.1,212.7 175.2,212.4 173.4,216.5C171.7,220.6 167.5,232.3 165.5,236.2C163.5,240.1 162.6,238.7 161.5,239.7C160.4,240.7 158.8,241.3 159.0,242.0C159.2,242.7 161.5,243.4 163.0,244.0C164.5,244.6 166.3,245.5 168.0,245.6C169.7,245.7 171.3,244.5 173.0,244.6C174.7,244.7 176.2,245.3 178.0,246.1C179.8,246.9 182.0,248.8 184.0,249.3C186.0,249.8 188.1,248.8 190.0,248.9C191.9,249.0 193.9,249.3 195.6,250.0C197.4,250.6 199.0,251.6 200.7,252.6C202.3,253.6 203.8,255.0 205.4,255.9C207.0,256.8 208.7,257.7 210.5,258.3C212.3,258.8 214.3,259.1 216.2,259.1C218.1,259.0 220.1,258.6 221.9,258.0C223.7,257.4 225.3,255.6 227.0,255.4C228.8,255.3 231.4,256.7 232.3,257.0"/><path d="M177.6,209.7C177.2,210.0 176.3,210.4 175.6,211.5C174.9,212.6 175.1,212.0 173.2,216.5C171.2,221.0 166.2,234.4 164.0,238.7C161.8,243.0 161.1,241.2 160.0,242.2C158.9,243.2 157.2,243.8 157.5,244.5C157.8,245.2 160.0,245.9 161.5,246.5C163.0,247.1 164.8,248.0 166.5,248.1C168.2,248.2 169.8,246.9 171.5,247.1C173.2,247.3 174.5,248.2 176.5,249.1C178.5,250.0 181.0,252.0 183.2,252.5C185.5,253.0 188.0,252.2 190.0,252.3C192.0,252.4 193.6,252.7 195.3,253.3C197.0,253.9 198.5,254.9 200.1,255.8C201.6,256.7 203.0,257.8 204.7,258.6C206.3,259.3 208.0,259.9 209.8,260.3C211.6,260.6 213.6,260.7 215.5,260.5C217.5,260.2 219.5,259.7 221.4,258.9C223.3,258.1 225.1,256.1 226.9,255.8C228.7,255.5 231.4,256.8 232.3,257.0"/><path d="M190.0,256.9C191.1,257.1 194.3,257.3 196.4,258.2C198.5,259.1 200.6,260.9 202.7,262.0C204.8,263.1 207.0,264.0 209.1,264.5C211.2,265.0 213.2,265.2 215.5,265.2C217.8,265.2 220.6,264.7 223.1,264.5C225.6,264.3 228.4,263.7 230.7,263.9C233.0,264.1 235.4,264.6 237.1,265.5C238.8,266.4 239.9,267.2 240.9,269.0C241.9,270.8 242.5,274.2 243.0,276.0C243.5,277.8 243.8,279.3 244.0,280.0"/><path d="M232.0,185.2C230.7,185.4 226.3,186.7 224.4,186.5C222.5,186.3 222.2,184.5 220.5,183.9C218.8,183.3 216.5,182.5 214.2,182.9C211.9,183.3 208.6,185.1 206.5,186.5C204.4,187.9 203.0,189.2 201.5,191.5C200.0,193.8 199.4,197.9 197.6,200.5C195.8,203.1 192.9,205.1 190.9,206.8C188.9,208.5 187.2,209.1 185.8,210.6C184.4,212.1 183.7,213.8 182.6,215.7C181.5,217.6 180.3,220.4 179.5,222.1C178.7,223.8 177.8,225.3 177.5,226.0"/><path d="M233.3,195.4C232.5,195.3 229.7,195.1 228.2,194.7C226.7,194.3 225.7,193.0 224.4,192.8C223.1,192.6 222.0,193.1 220.5,193.5C219.0,193.9 217.2,194.5 215.5,195.4C213.8,196.3 211.9,197.7 210.4,199.2C208.9,200.7 207.6,202.6 206.5,204.3C205.4,206.0 205.1,207.9 204.0,209.4C202.9,210.9 201.7,212.3 200.2,213.2C198.7,214.0 196.6,214.5 195.1,214.5C193.6,214.5 192.2,213.0 190.9,213.2C189.6,213.4 188.3,214.4 187.1,215.7C185.9,217.0 184.8,219.3 183.9,220.8C183.1,222.3 182.3,223.9 182.0,224.5"/><path d="M242.8,201.1C242.1,201.4 240.2,202.8 238.4,203.0C236.6,203.2 234.1,202.7 232.0,202.4C229.9,202.1 227.5,201.2 225.6,201.1C223.7,201.0 222.2,201.2 220.5,201.7C218.8,202.2 216.9,203.2 215.5,204.3C214.1,205.4 213.3,206.4 212.3,208.1C211.3,209.8 210.7,212.6 209.7,214.5C208.7,216.4 207.7,218.4 206.5,219.5C205.3,220.6 204.2,220.8 202.7,220.8C201.2,220.8 199.1,220.1 197.3,219.5C195.6,218.9 193.7,216.8 192.2,217.0C190.7,217.2 189.3,219.6 188.4,220.8C187.5,222.0 186.8,223.5 186.5,224.0"/><path d="M219.3,175.0C219.5,175.6 219.4,177.8 220.5,178.8C221.6,179.8 223.7,180.6 225.6,181.1C227.5,181.6 230.2,181.7 232.0,182.0C233.8,182.3 235.8,182.8 236.5,182.9"/><path d="M228.0,150.0C229.3,150.3 233.5,150.8 236.0,152.0C238.5,153.2 241.5,155.2 243.0,157.0C244.5,158.8 245.3,161.2 245.0,163.0C244.7,164.8 242.8,166.8 241.0,168.0C239.2,169.2 236.2,169.3 234.0,170.0C231.8,170.7 229.3,171.0 228.0,172.0C226.7,173.0 226.3,175.3 226.0,176.0"/><path d="M230.0,197.0C231.3,197.2 235.3,198.2 238.0,198.0C240.7,197.8 244.7,196.3 246.0,196.0"/><path d="M226.0,225.0C227.3,223.7 231.3,218.5 234.0,217.0C236.7,215.5 239.3,215.8 242.0,216.0C244.7,216.2 248.7,217.7 250.0,218.0"/><path d="M136.0,280.0C136.7,279.7 138.7,278.0 140.0,278.0C141.3,278.0 143.3,279.7 144.0,280.0"/><path d="M160.0,272.0C161.0,272.8 164.5,275.7 166.0,277.0C167.5,278.3 168.5,279.5 169.0,280.0"/><path d="M176.0,274.0C176.8,274.7 179.8,277.0 181.0,278.0C182.2,279.0 182.7,279.7 183.0,280.0"/><path d="M186.0,273.0C187.0,273.8 190.5,276.8 192.0,278.0C193.5,279.2 194.5,279.7 195.0,280.0"/></g><g clip-path="url(#mapR)" fill="none" stroke="#2c7cc4" stroke-width="1.25" stroke-linecap="round" stroke-linejoin="round"><path d="M309.9,22.6C310.9,24.4 314.2,29.7 315.7,33.4C317.2,37.1 318.1,41.1 319.0,45.0C319.9,48.9 320.8,53.5 320.8,56.9C320.8,60.3 320.4,62.9 319.0,65.2C317.6,67.5 314.0,69.7 312.4,71.0C310.8,72.3 310.0,72.7 309.5,73.0"/><path d="M309.9,10.0C311.1,11.4 314.9,14.8 317.4,18.4C319.9,22.0 322.6,27.4 325.0,31.8C327.4,36.2 329.8,40.8 331.6,45.0C333.4,49.2 335.0,53.2 335.8,56.9C336.6,60.5 337.4,64.2 336.6,66.9C335.8,69.6 332.3,70.9 330.8,73.0C329.3,75.1 329.4,77.2 327.4,79.4C325.4,81.6 321.9,84.2 319.0,86.0C316.1,87.8 311.4,89.5 309.9,90.2"/><path d="M316.6,5.9C318.4,7.7 323.9,12.4 327.4,16.7C330.9,21.0 334.4,26.5 337.5,31.8C340.6,37.1 343.3,43.5 345.8,48.5C348.3,53.5 350.0,58.1 352.5,61.9C355.0,65.7 358.1,68.7 360.9,71.0C363.7,73.3 367.4,73.5 369.3,76.0C371.2,78.5 371.2,83.2 372.6,86.0C374.0,88.8 375.4,91.0 377.6,92.7C379.8,94.4 383.9,94.8 386.0,96.0C388.1,97.2 388.8,97.7 390.0,100.0C391.2,102.3 392.6,106.4 393.3,110.0C394.0,113.6 394.1,117.8 394.1,121.7C394.1,125.6 393.1,130.5 393.3,133.4C393.5,136.3 394.2,136.3 395.2,138.9C396.1,141.5 397.8,145.9 399.0,149.1C400.2,152.3 401.1,155.0 402.2,158.0C403.3,161.0 404.3,163.2 405.4,166.9C406.5,170.7 407.4,176.3 408.6,180.5C409.8,184.7 411.7,188.9 412.8,192.2C413.9,195.4 414.6,198.7 415.0,200.0"/><path d="M332.1,5.9C333.6,7.7 338.2,12.9 340.8,16.7C343.4,20.4 345.3,24.2 347.5,28.4C349.7,32.6 351.7,37.3 354.2,41.8C356.7,46.3 359.2,51.6 362.6,55.2C366.0,58.8 370.7,61.1 374.3,63.5C377.9,65.9 381.1,65.7 384.3,69.4C387.5,73.2 391.1,81.6 393.5,86.0C395.9,90.4 396.9,92.5 398.5,96.0C400.1,99.5 401.8,103.5 403.3,106.7C404.8,109.9 406.1,111.9 407.5,115.0C408.9,118.1 410.6,121.8 411.7,125.1C412.8,128.4 412.9,132.0 414.2,135.1C415.4,138.2 417.2,141.0 419.2,143.5C421.1,146.0 424.3,148.5 425.9,150.2C427.5,151.9 428.0,152.6 428.6,153.7C429.2,154.8 430.0,156.2 429.3,157.0C428.6,157.8 426.9,158.6 424.5,158.7C422.1,158.8 417.3,157.4 414.9,157.4C412.4,157.4 410.9,157.8 409.8,158.6C408.8,159.4 408.0,160.9 408.6,162.3C409.2,163.7 412.4,165.2 413.6,167.1C414.9,169.0 415.8,171.3 416.1,173.8C416.4,176.3 415.2,179.3 415.3,182.1C415.4,184.9 416.4,187.8 416.9,190.5C417.4,193.2 418.2,196.8 418.5,198.0"/><path d="M350.9,5.9C352.1,7.4 356.6,11.8 358.4,15.0C360.2,18.2 360.6,21.4 361.7,25.0C362.8,28.6 363.2,33.4 365.0,36.8C366.8,40.2 369.7,42.7 372.6,45.2C375.5,47.7 379.5,49.2 382.6,51.8C385.7,54.4 388.5,58.9 391.0,61.0C393.5,63.1 395.8,63.6 397.7,64.4C399.6,65.2 401.7,64.9 402.7,66.0C403.7,67.1 403.3,68.8 403.6,71.0C403.9,73.2 403.6,76.2 404.5,79.0C405.4,81.8 408.0,84.8 409.2,88.0C410.4,91.2 410.4,94.6 411.5,98.0C412.6,101.4 414.0,105.3 415.9,108.4C417.8,111.5 420.4,113.9 422.6,116.7C424.8,119.5 426.8,122.6 429.3,125.1C431.8,127.6 435.2,129.6 437.6,131.8C440.0,134.0 442.2,135.7 443.5,138.5C444.8,141.3 444.9,144.8 445.1,148.5C445.3,152.2 444.4,157.0 444.5,160.4C444.6,163.8 445.9,166.7 445.4,168.8C444.8,170.9 443.0,171.8 441.2,172.9C439.4,174.0 436.4,174.1 434.5,175.4C432.6,176.7 430.9,178.5 429.5,180.5C428.1,182.5 426.8,185.1 426.1,187.2C425.4,189.3 425.4,192.0 425.3,193.0"/><path d="M369.3,5.9C370.4,7.4 374.2,11.8 376.0,15.0C377.8,18.2 379.3,21.9 380.1,25.0C380.9,28.1 380.0,30.2 381.0,33.4C382.0,36.6 384.1,41.2 386.0,44.3C387.9,47.4 390.5,50.1 392.7,51.8C394.9,53.5 396.3,54.1 399.4,54.3C402.4,54.5 408.1,52.8 411.0,53.2C413.9,53.6 415.6,53.9 417.0,56.9C418.4,59.9 418.6,67.2 419.4,71.0C420.2,74.8 420.6,76.6 422.0,79.4C423.4,82.2 425.9,85.9 427.8,87.7C429.8,89.5 431.5,88.2 433.7,90.2C435.9,92.2 438.0,96.2 441.2,99.4C444.4,102.6 449.5,106.4 452.9,109.5C456.2,112.6 459.5,114.7 461.3,117.8C463.1,120.9 463.7,124.6 463.8,127.9C463.9,131.2 462.4,135.6 462.1,137.9C461.8,140.2 461.6,139.9 462.1,142.0C462.7,144.1 464.7,147.6 465.4,150.4C466.1,153.2 466.6,155.9 466.3,158.7C466.0,161.5 464.6,164.6 463.8,167.1C463.0,169.6 462.6,172.1 461.3,173.8C460.0,175.5 458.4,176.1 456.2,177.1C454.0,178.1 450.7,178.6 447.9,179.6C445.1,180.6 441.6,181.7 439.5,183.0C437.4,184.3 436.3,186.0 435.3,187.2C434.3,188.4 434.0,189.5 433.7,190.0"/><path d="M414.1,35.6C415.4,36.2 419.9,37.3 422.0,39.3C424.1,41.3 425.5,45.1 427.0,47.7C428.5,50.4 429.7,52.8 431.2,55.2C432.7,57.6 435.9,60.1 436.2,61.9C436.5,63.7 434.2,64.5 432.8,66.0C431.4,67.5 428.4,69.0 427.8,71.0C427.2,73.0 428.1,75.2 429.5,77.7C430.9,80.2 434.0,83.5 436.2,86.0C438.4,88.5 440.1,90.9 442.9,92.7C445.7,94.5 449.8,95.5 452.9,96.9C456.0,98.3 459.1,100.5 461.3,101.1C463.5,101.7 463.5,100.0 466.3,100.3C469.1,100.6 475.2,101.9 478.0,103.0C480.8,104.1 481.6,105.4 483.0,107.0C484.4,108.6 485.4,110.7 486.4,112.8C487.4,114.9 487.2,117.5 488.9,119.5C490.6,121.5 494.3,123.1 496.4,124.5C498.5,125.9 500.4,126.2 501.4,127.9C502.4,129.6 502.8,132.8 502.2,134.5C501.6,136.2 499.0,136.8 498.0,138.0C497.0,139.2 496.6,140.0 496.4,142.0C496.2,144.0 496.1,147.7 497.0,150.0C497.9,152.3 501.0,153.7 502.0,156.0C503.0,158.3 503.7,161.7 503.0,164.0C502.3,166.3 500.2,168.5 498.0,170.0C495.8,171.5 492.8,172.2 490.0,173.0C487.2,173.8 483.2,174.2 481.1,175.0C479.0,175.8 479.2,176.4 477.3,177.5C475.4,178.6 472.4,180.2 469.6,181.4C466.8,182.6 463.9,183.7 460.7,184.5C457.5,185.3 453.0,185.8 450.5,186.5C448.0,187.2 446.8,188.3 445.5,189.0C444.2,189.7 443.3,190.2 442.9,190.5"/><path d="M494.7,102.0C495.4,103.1 497.1,106.9 498.9,108.6C500.7,110.3 503.9,111.7 505.6,112.0C507.3,112.3 507.3,110.8 509.0,110.3C510.7,109.8 513.7,108.7 515.6,109.1C517.5,109.5 519.7,111.1 520.6,112.8C521.5,114.5 521.5,117.3 521.1,119.5C520.7,121.7 519.4,123.8 518.1,126.2C516.8,128.6 514.2,131.9 513.1,133.7C512.0,135.5 511.7,136.4 511.4,137.0"/><path d="M309.9,107.0C310.9,107.7 314.2,108.9 315.7,111.0C317.2,113.1 318.7,116.4 319.0,119.5C319.3,122.6 318.4,125.8 317.4,129.5C316.4,133.2 314.5,139.1 313.2,142.0C311.9,144.9 310.3,146.2 309.7,147.1"/><path d="M309.7,160.5C311.5,157.9 317.6,149.8 320.5,145.2C323.4,140.6 324.6,135.5 327.4,132.9C330.2,130.3 334.4,130.5 337.5,129.5C340.6,128.5 343.3,128.4 345.8,127.0C348.3,125.6 350.3,123.3 352.5,121.2C354.7,119.1 356.7,116.0 359.2,114.5C361.7,113.0 365.1,112.3 367.6,112.0C370.1,111.7 371.8,112.5 374.3,112.8C376.8,113.1 380.6,113.1 382.6,114.0C384.7,114.9 385.5,116.3 386.6,118.4C387.8,120.5 389.0,123.2 389.5,126.8C390.0,130.4 389.0,136.3 389.5,140.2C390.0,144.1 391.3,147.0 392.6,150.4C393.9,153.8 395.8,157.3 397.1,160.5C398.4,163.7 399.1,165.9 400.3,169.5C401.5,173.1 402.9,177.8 404.4,182.1C405.9,186.4 408.2,192.0 409.4,195.5C410.6,199.0 411.1,201.8 411.5,203.0"/><path d="M309.7,173.8C311.5,172.6 317.2,168.7 320.5,166.8C323.8,164.9 327.3,163.9 329.5,162.4C331.7,160.9 333.3,159.9 333.9,157.9C334.5,155.9 333.2,152.9 333.3,150.3C333.4,147.8 333.2,144.7 334.5,142.6C335.8,140.5 338.1,139.8 340.8,137.9C343.5,136.0 348.1,133.2 350.9,131.0C353.7,128.8 355.8,126.4 357.5,124.5C359.2,122.6 359.6,120.8 361.0,119.5C362.4,118.2 364.1,117.0 366.0,116.5C367.9,116.0 370.7,115.7 372.6,116.2C374.5,116.7 376.1,117.9 377.6,119.5C379.1,121.1 380.5,122.8 381.5,126.0C382.5,129.2 382.7,135.1 383.7,138.9C384.7,142.8 386.1,145.7 387.5,149.1C388.9,152.5 390.6,155.9 392.0,159.3C393.4,162.7 394.3,165.4 395.8,169.5C397.3,173.6 399.4,179.2 401.0,183.8C402.6,188.4 404.0,193.5 405.2,197.2C406.4,200.9 407.5,204.5 408.0,206.0"/><path d="M309.7,182.7C310.9,182.2 314.2,180.9 316.7,179.5C319.1,178.1 322.3,176.4 324.4,174.5C326.5,172.6 327.2,170.0 329.5,168.1C331.8,166.2 336.3,164.7 338.4,163.0C340.5,161.3 341.7,160.0 342.2,157.9C342.7,155.8 340.9,152.5 341.5,150.3C342.1,148.1 343.8,146.2 346.0,144.5C348.2,142.8 352.7,141.8 354.9,140.1C357.1,138.3 357.5,135.8 359.2,134.0C360.9,132.2 363.1,130.4 365.0,129.5C366.9,128.6 368.6,128.2 370.4,128.5C372.1,128.8 374.1,129.6 375.5,131.5C376.9,133.4 377.8,137.3 378.6,140.2C379.4,143.1 379.5,146.3 380.5,149.1C381.5,151.8 382.9,154.4 384.4,156.7C385.9,159.0 388.4,160.8 389.5,163.1C390.6,165.4 390.4,168.1 390.7,170.7C391.0,173.2 391.0,176.2 391.4,178.4C391.8,180.6 392.5,181.2 393.3,184.0C394.1,186.8 395.1,191.9 396.0,195.5C396.9,199.1 397.8,203.1 398.5,205.5C399.2,207.9 399.9,209.2 400.2,210.0"/><path d="M309.7,187.2C311.9,187.0 320.2,186.8 323.1,185.9C326.0,185.1 325.2,183.8 326.9,182.1C328.6,180.4 330.8,177.4 333.3,175.7C335.9,174.0 339.7,173.4 342.2,171.9C344.7,170.4 347.2,168.9 348.5,166.8C349.8,164.7 348.9,161.3 349.8,159.2C350.7,157.1 351.9,155.2 353.6,154.1C355.3,153.0 357.9,152.6 360.0,152.8C362.1,153.0 364.1,154.2 366.4,155.4C368.7,156.6 372.5,157.9 374.0,159.8C375.5,161.7 374.6,164.7 375.5,166.9C376.4,169.2 378.0,171.4 379.3,173.3C380.6,175.2 381.9,176.6 383.1,178.4C384.3,180.2 385.7,181.2 386.3,184.0C386.9,186.8 387.1,191.5 387.0,195.0C386.9,198.5 386.2,203.3 386.0,205.0"/><path d="M309.7,194.0C311.3,193.5 316.2,192.1 319.3,190.8C322.4,189.5 325.7,187.6 328.2,186.4C330.7,185.2 332.6,184.5 334.5,183.8C336.4,183.1 337.3,183.4 339.6,182.1C341.9,180.8 345.9,177.4 348.5,175.7C351.1,174.0 352.3,172.3 354.9,171.9C357.4,171.5 361.9,171.7 363.8,173.2C365.7,174.7 365.6,179.1 366.5,180.9C367.4,182.7 368.4,182.0 369.1,184.0C369.9,186.0 370.7,190.0 371.0,193.0C371.3,196.0 371.0,200.5 371.0,202.0"/><path d="M309.7,198.5C311.5,197.8 317.2,195.9 320.5,194.6C323.8,193.3 326.7,191.8 329.5,190.8C332.3,189.9 335.2,189.5 337.1,188.9C339.0,188.3 339.2,188.2 340.9,187.2C342.6,186.2 345.0,183.8 347.3,182.7C349.6,181.6 352.8,180.8 354.9,180.8C357.0,180.8 358.7,181.2 360.0,182.7C361.3,184.2 362.2,187.1 362.5,190.0C362.8,192.9 362.1,198.3 362.0,200.0"/><path d="M309.7,202.9C311.3,202.5 316.0,201.6 319.3,200.4C322.6,199.2 326.1,196.9 329.5,195.9C332.9,194.9 336.9,194.5 339.6,194.6C342.4,194.7 344.1,195.5 346.0,196.5C347.9,197.5 349.2,199.0 351.1,200.4C353.0,201.8 355.4,203.3 357.5,204.8C359.6,206.3 361.7,207.7 363.8,209.3C365.9,210.9 368.0,212.4 370.2,214.4C372.4,216.4 374.7,219.1 377.0,221.5C379.3,223.9 381.2,225.9 384.0,229.0C386.8,232.1 390.3,236.2 394.0,240.0C397.7,243.8 402.3,248.7 406.0,252.0C409.7,255.3 413.0,257.0 416.0,260.0C419.0,263.0 421.7,266.7 424.0,270.0C426.3,273.3 429.0,278.3 430.0,280.0"/><path d="M309.7,204.8C311.5,204.5 317.2,204.0 320.5,202.9C323.8,201.8 326.7,199.4 329.5,198.5C332.3,197.6 334.6,197.1 337.1,197.2C339.6,197.3 342.4,198.0 344.7,199.1C347.0,200.2 348.8,201.9 351.1,203.5C353.4,205.1 355.9,206.6 358.7,208.6C361.4,210.6 364.7,213.0 367.6,215.6C370.5,218.2 373.3,221.1 376.0,224.0C378.7,226.9 381.0,229.7 384.0,233.0C387.0,236.3 390.7,240.5 394.0,244.0C397.3,247.5 401.0,250.8 404.0,254.0C407.0,257.2 409.7,260.7 412.0,263.0C414.3,265.3 416.0,265.7 418.0,268.0C420.0,270.3 423.0,275.5 424.0,277.0"/><path d="M309.7,210.5C310.9,210.6 314.7,210.8 316.7,211.2C318.7,211.6 320.5,213.6 321.8,213.1C323.1,212.6 323.1,209.8 324.4,208.0C325.7,206.2 327.6,203.6 329.5,202.3C331.4,201.0 333.7,200.4 335.8,200.4C337.9,200.4 339.9,201.2 342.2,202.3C344.5,203.4 347.1,204.9 349.8,206.7C352.6,208.5 355.7,211.0 358.7,213.1C361.7,215.2 365.1,217.3 367.6,219.5C370.2,221.7 371.9,223.9 374.0,226.0C376.1,228.1 379.0,231.0 380.0,232.0"/><path d="M362.0,203.0C363.3,204.3 367.3,208.2 370.0,211.0C372.7,213.8 375.3,217.3 378.0,220.0C380.7,222.7 382.7,224.0 386.0,227.0C389.3,230.0 394.0,234.3 398.0,238.0C402.0,241.7 406.3,246.0 410.0,249.0C413.7,252.0 416.7,254.3 420.0,256.0C423.3,257.7 426.7,258.2 430.0,259.0C433.3,259.8 436.7,260.5 440.0,261.0C443.3,261.5 446.7,261.2 450.0,262.0C453.3,262.8 456.7,264.8 460.0,266.0C463.3,267.2 466.7,268.7 470.0,269.0C473.3,269.3 476.7,267.7 480.0,268.0C483.3,268.3 487.0,269.7 490.0,271.0C493.0,272.3 496.0,274.5 498.0,276.0C500.0,277.5 501.3,279.3 502.0,280.0"/><path d="M371.0,204.0C372.3,205.5 376.2,210.0 379.0,213.0C381.8,216.0 384.5,218.5 388.0,222.0C391.5,225.5 396.0,230.2 400.0,234.0C404.0,237.8 408.3,242.0 412.0,245.0C415.7,248.0 418.7,250.3 422.0,252.0C425.3,253.7 428.7,254.2 432.0,255.0C435.3,255.8 438.7,256.6 442.0,257.0C445.3,257.4 448.7,256.8 452.0,257.5C455.3,258.2 458.7,259.8 462.0,261.0C465.3,262.2 468.7,264.2 472.0,264.5C475.3,264.8 478.7,262.6 482.0,263.0C485.3,263.4 489.2,265.9 491.6,267.1C494.1,268.3 494.8,269.5 496.7,270.3C498.6,271.1 501.0,271.8 503.1,272.2C505.2,272.6 507.5,272.2 509.5,272.8C511.5,273.4 513.6,274.8 515.0,276.0C516.4,277.2 517.5,279.3 518.0,280.0"/><path d="M386.0,207.0C387.3,208.7 391.0,213.3 394.0,217.0C397.0,220.7 400.5,225.2 404.0,229.0C407.5,232.8 411.5,236.9 415.0,240.0C418.5,243.1 421.7,245.8 425.0,247.5C428.3,249.2 431.7,249.7 435.0,250.5C438.3,251.3 441.7,252.2 445.0,252.5C448.3,252.8 451.7,251.9 455.0,252.5C458.3,253.1 461.7,254.8 465.0,256.0C468.3,257.2 472.0,259.7 475.0,260.0C478.0,260.3 480.6,257.9 483.0,258.0C485.4,258.1 487.0,259.5 489.1,260.7C491.2,261.9 493.4,263.9 495.5,265.2C497.6,266.5 499.5,267.8 501.8,268.4C504.1,269.0 506.9,268.8 509.5,269.0C512.0,269.2 514.6,269.3 517.1,269.6C519.6,269.9 522.6,269.8 524.7,270.9C526.9,272.0 528.8,274.5 530.0,276.0C531.2,277.5 531.7,279.3 532.0,280.0"/><path d="M400.0,211.0C401.2,212.7 404.3,217.5 407.0,221.0C409.7,224.5 412.8,228.6 416.0,232.0C419.2,235.4 422.7,239.2 426.0,241.5C429.3,243.8 432.7,244.4 436.0,245.5C439.3,246.6 442.7,247.6 446.0,248.0C449.3,248.4 452.7,247.5 456.0,248.0C459.3,248.5 463.0,249.8 466.0,251.0C469.0,252.2 471.0,254.0 474.0,255.0C477.0,256.0 481.3,256.4 484.0,256.9C486.7,257.4 488.3,257.3 490.4,258.2C492.5,259.1 494.6,260.9 496.7,262.0C498.8,263.1 501.0,264.0 503.1,264.5C505.2,265.0 507.2,265.2 509.5,265.2C511.8,265.2 514.6,264.7 517.1,264.5C519.6,264.3 522.4,263.7 524.7,263.9C527.0,264.1 529.4,264.6 531.1,265.5C532.8,266.4 533.9,267.2 534.9,269.0C535.9,270.8 536.5,274.2 537.0,276.0C537.5,277.8 537.8,279.3 538.0,280.0"/><path d="M408.5,207.0C409.2,208.7 410.9,213.5 413.0,217.0C415.1,220.5 418.3,224.8 421.0,228.0C423.7,231.2 426.2,234.3 429.0,236.5C431.8,238.7 435.5,239.8 438.0,241.0C440.5,242.2 443.0,243.1 444.0,243.5"/><path d="M448.0,191.5C448.9,191.2 451.2,189.7 453.1,189.6C455.0,189.5 457.4,190.2 459.5,190.9C461.6,191.6 463.7,193.3 465.8,193.5C467.9,193.7 470.1,192.7 472.2,192.2C474.3,191.7 476.7,190.6 478.5,190.3C480.3,190.0 482.2,189.0 483.0,190.3C483.8,191.6 483.2,195.5 483.0,197.9C482.8,200.3 482.6,202.9 481.7,204.9C480.8,206.9 478.7,208.2 477.3,210.0C475.9,211.8 474.7,213.7 473.5,215.7C472.3,217.7 471.4,220.3 470.3,222.1C469.2,223.9 467.6,225.8 467.0,226.5"/><path d="M456.9,195.4C458.2,195.3 461.9,195.0 464.5,195.1C467.1,195.2 470.1,195.9 472.2,196.0C474.3,196.1 476.1,195.1 477.3,195.4C478.5,195.7 479.0,196.4 479.2,197.9C479.4,199.4 479.2,202.4 478.5,204.3C477.8,206.2 475.9,207.7 474.7,209.4C473.5,211.1 472.6,212.6 471.5,214.5C470.4,216.4 469.3,219.1 468.4,220.8C467.4,222.6 466.2,224.3 465.8,225.0"/><path d="M467.1,197.3C468.2,197.4 472.0,197.4 473.5,197.9C475.0,198.4 475.7,199.2 476.0,200.5C476.3,201.8 475.9,203.9 475.4,205.5C474.9,207.1 473.6,208.5 472.8,210.0C472.0,211.5 471.2,212.9 470.3,214.5C469.4,216.1 468.6,217.9 467.7,219.5C466.8,221.1 465.4,223.2 465.0,224.0"/><path d="M473.8,206.5C473.4,207.3 472.3,209.8 471.6,211.5C470.9,213.2 469.7,215.3 469.4,216.5C469.1,217.7 470.6,217.8 470.0,218.7C469.4,219.6 467.1,221.2 466.0,222.2C464.9,223.2 463.2,223.8 463.5,224.5C463.8,225.2 466.0,225.9 467.5,226.5C469.0,227.1 470.8,228.0 472.5,228.1C474.2,228.2 475.8,227.6 477.5,227.1C479.2,226.6 481.5,225.1 482.5,225.1C483.5,225.1 483.0,226.9 483.2,226.9C483.5,226.9 482.9,225.2 484.0,225.1C485.1,225.0 487.9,225.7 489.7,226.3C491.5,226.9 493.2,227.9 495.0,228.7C496.7,229.5 498.5,230.6 500.2,231.1C502.0,231.6 503.9,232.4 505.4,231.8C506.8,231.1 508.0,228.9 509.0,227.3C509.9,225.7 510.5,223.8 511.3,222.0C512.0,220.2 512.7,218.4 513.5,216.6C514.2,214.8 514.4,212.6 515.6,211.2C516.7,209.7 518.5,208.4 520.2,207.9C521.9,207.4 524.0,208.0 525.8,208.4C527.7,208.9 529.4,210.0 531.2,210.7C533.0,211.3 534.8,212.2 536.6,212.5C538.5,212.8 540.9,212.7 542.3,212.6C543.7,212.5 544.6,212.0 545.1,211.9"/><path d="M473.5,206.9C473.2,207.7 472.1,209.9 471.4,211.5C470.6,213.1 469.6,214.9 469.1,216.5C468.6,218.1 469.3,219.8 468.5,221.2C467.7,222.6 465.6,223.7 464.5,224.7C463.4,225.7 461.8,226.3 462.0,227.0C462.2,227.7 464.5,228.4 466.0,229.0C467.5,229.6 469.3,230.5 471.0,230.6C472.7,230.7 474.3,230.0 476.0,229.6C477.7,229.2 479.9,228.0 481.0,228.1C482.1,228.2 482.0,230.0 482.5,230.1C483.0,230.2 482.8,228.6 484.0,228.5C485.2,228.4 487.7,229.1 489.5,229.6C491.3,230.1 493.0,230.9 494.8,231.6C496.5,232.2 498.3,233.1 500.0,233.5C501.8,233.9 503.7,234.6 505.2,233.9C506.6,233.3 507.9,231.5 509.0,229.8C510.1,228.1 510.8,225.7 511.5,223.6C512.3,221.5 512.9,219.2 513.6,217.1C514.2,215.1 515.2,212.2 515.6,211.2"/><path d="M473.2,207.3C472.9,208.0 471.8,210.0 471.1,211.5C470.4,213.0 469.5,214.5 468.8,216.5C468.2,218.5 468.0,221.9 467.0,223.7C466.0,225.5 464.1,226.2 463.0,227.2C461.9,228.2 460.2,228.8 460.5,229.5C460.8,230.2 463.0,230.9 464.5,231.5C466.0,232.1 467.8,233.0 469.5,233.1C471.2,233.2 472.8,232.4 474.5,232.1C476.2,231.8 478.3,230.9 479.5,231.1C480.7,231.3 481.0,233.2 481.8,233.3C482.5,233.4 482.7,232.0 484.0,231.9C485.3,231.8 487.6,232.5 489.4,232.9C491.2,233.3 492.9,233.9 494.6,234.5C496.3,235.0 498.1,235.7 499.8,236.4C501.4,237.1 503.1,237.9 504.7,238.6C506.3,239.2 507.7,239.9 509.2,240.1C510.8,240.2 512.6,240.0 513.9,239.5C515.3,239.0 516.2,237.8 517.3,236.8C518.4,235.8 519.9,233.8 520.5,233.2"/><path d="M473.0,207.7C472.6,208.3 471.6,210.0 470.9,211.5C470.1,213.0 469.5,214.1 468.6,216.5C467.7,218.9 466.7,224.0 465.5,226.2C464.3,228.4 462.6,228.7 461.5,229.7C460.4,230.7 458.8,231.3 459.0,232.0C459.2,232.7 461.5,233.4 463.0,234.0C464.5,234.6 466.3,235.5 468.0,235.6C469.7,235.7 471.3,234.8 473.0,234.6C474.7,234.3 476.7,233.8 478.0,234.1C479.3,234.4 480.0,236.3 481.0,236.5C482.0,236.7 482.6,235.3 484.0,235.3C485.4,235.3 487.5,235.9 489.2,236.2C491.0,236.6 492.7,236.9 494.4,237.3C496.2,237.8 497.9,238.2 499.6,238.8C501.2,239.4 502.9,240.1 504.5,240.7C506.1,241.4 507.7,242.5 509.3,242.6C510.9,242.6 512.8,242.0 514.2,241.1C515.5,240.3 516.3,238.7 517.4,237.3C518.4,236.0 519.9,233.9 520.5,233.2"/><path d="M472.7,208.1C472.3,208.7 471.3,210.1 470.6,211.5C469.9,212.9 469.4,213.6 468.3,216.5C467.2,219.4 465.4,226.1 464.0,228.7C462.6,231.3 461.1,231.2 460.0,232.2C458.9,233.2 457.2,233.8 457.5,234.5C457.8,235.2 460.0,235.9 461.5,236.5C463.0,237.1 464.8,238.0 466.5,238.1C468.2,238.2 469.8,237.3 471.5,237.1C473.2,236.9 475.0,236.7 476.5,237.1C478.0,237.5 479.0,239.4 480.2,239.7C481.5,240.0 482.5,238.7 484.0,238.7C485.5,238.7 487.5,239.3 489.2,239.6C490.9,239.9 492.7,240.2 494.4,240.6C496.1,241.0 497.7,241.6 499.3,242.1C501.0,242.6 502.5,243.3 504.2,243.7C505.8,244.2 507.5,245.1 509.1,244.9C510.8,244.7 512.8,243.7 514.2,242.5C515.5,241.3 516.4,239.4 517.4,237.8C518.5,236.3 519.9,234.0 520.5,233.2"/><path d="M472.4,208.5C472.1,209.0 471.1,210.2 470.4,211.5C469.6,212.8 469.3,213.2 468.0,216.5C466.7,219.8 464.1,228.2 462.5,231.2C460.9,234.2 459.6,233.7 458.5,234.7C457.4,235.7 455.8,236.3 456.0,237.0C456.2,237.7 458.5,238.4 460.0,239.0C461.5,239.6 463.3,240.5 465.0,240.6C466.7,240.7 468.3,239.7 470.0,239.6C471.7,239.5 473.4,239.5 475.0,240.1C476.6,240.7 478.0,242.6 479.5,242.9C481.0,243.2 482.4,242.1 484.0,242.1C485.6,242.1 487.5,242.7 489.2,243.0C490.9,243.3 492.7,243.5 494.4,244.1C496.0,244.6 497.5,245.5 499.1,246.3C500.6,247.2 502.0,248.5 503.5,249.3C505.1,250.1 506.7,250.9 508.4,251.0C510.0,251.1 511.9,250.7 513.5,250.1C515.0,249.5 516.3,248.2 517.7,247.1C519.0,246.1 520.9,244.2 521.5,243.6"/><path d="M472.1,208.9C471.8,209.3 470.8,210.2 470.1,211.5C469.4,212.8 469.2,212.8 467.7,216.5C466.2,220.2 462.8,230.2 461.0,233.7C459.2,237.1 458.1,236.2 457.0,237.2C455.9,238.2 454.2,238.8 454.5,239.5C454.8,240.2 457.0,240.9 458.5,241.5C460.0,242.1 461.8,243.0 463.5,243.1C465.2,243.2 466.8,242.1 468.5,242.1C470.2,242.1 471.8,242.4 473.5,243.1C475.2,243.8 477.0,245.7 478.8,246.1C480.5,246.5 482.2,245.4 484.0,245.5C485.8,245.6 487.6,246.0 489.4,246.5C491.1,246.9 492.9,247.5 494.5,248.3C496.1,249.0 497.6,250.0 499.2,250.7C500.7,251.4 502.2,252.3 503.8,252.7C505.4,253.1 507.0,253.4 508.7,253.2C510.4,252.9 512.2,252.2 513.7,251.3C515.2,250.3 516.5,248.8 517.8,247.5C519.1,246.3 520.9,244.3 521.5,243.6"/><path d="M471.8,209.3C471.5,209.7 470.6,210.3 469.9,211.5C469.1,212.7 469.2,212.4 467.4,216.5C465.7,220.6 461.5,232.3 459.5,236.2C457.5,240.1 456.6,238.7 455.5,239.7C454.4,240.7 452.8,241.3 453.0,242.0C453.2,242.7 455.5,243.4 457.0,244.0C458.5,244.6 460.3,245.5 462.0,245.6C463.7,245.7 465.3,244.5 467.0,244.6C468.7,244.7 470.2,245.3 472.0,246.1C473.8,246.9 476.0,248.8 478.0,249.3C480.0,249.8 482.1,248.8 484.0,248.9C485.9,249.0 487.9,249.3 489.6,250.0C491.4,250.6 493.0,251.6 494.7,252.6C496.3,253.6 497.8,255.0 499.4,255.9C501.0,256.8 502.7,257.7 504.5,258.3C506.3,258.8 508.3,259.1 510.2,259.1C512.1,259.0 514.1,258.6 515.9,258.0C517.7,257.4 519.3,255.6 521.0,255.4C522.8,255.3 525.4,256.7 526.3,257.0"/><path d="M471.6,209.7C471.2,210.0 470.3,210.4 469.6,211.5C468.9,212.6 469.1,212.0 467.2,216.5C465.2,221.0 460.2,234.4 458.0,238.7C455.8,243.0 455.1,241.2 454.0,242.2C452.9,243.2 451.2,243.8 451.5,244.5C451.8,245.2 454.0,245.9 455.5,246.5C457.0,247.1 458.8,248.0 460.5,248.1C462.2,248.2 463.8,246.9 465.5,247.1C467.2,247.3 468.5,248.2 470.5,249.1C472.5,250.0 475.0,252.0 477.2,252.5C479.5,253.0 482.0,252.2 484.0,252.3C486.0,252.4 487.6,252.7 489.3,253.3C491.0,253.9 492.5,254.9 494.1,255.8C495.6,256.7 497.0,257.8 498.7,258.6C500.3,259.3 502.0,259.9 503.8,260.3C505.6,260.6 507.6,260.7 509.5,260.5C511.5,260.2 513.5,259.7 515.4,258.9C517.3,258.1 519.1,256.1 520.9,255.8C522.7,255.5 525.4,256.8 526.3,257.0"/><path d="M484.0,256.9C485.1,257.1 488.3,257.3 490.4,258.2C492.5,259.1 494.6,260.9 496.7,262.0C498.8,263.1 501.0,264.0 503.1,264.5C505.2,265.0 507.2,265.2 509.5,265.2C511.8,265.2 514.6,264.7 517.1,264.5C519.6,264.3 522.4,263.7 524.7,263.9C527.0,264.1 529.4,264.6 531.1,265.5C532.8,266.4 533.9,267.2 534.9,269.0C535.9,270.8 536.5,274.2 537.0,276.0C537.5,277.8 537.8,279.3 538.0,280.0"/><path d="M526.0,185.2C524.7,185.4 520.3,186.7 518.4,186.5C516.5,186.3 516.2,184.5 514.5,183.9C512.8,183.3 510.5,182.5 508.2,182.9C505.9,183.3 502.6,185.1 500.5,186.5C498.4,187.9 497.0,189.2 495.5,191.5C494.0,193.8 493.4,197.9 491.6,200.5C489.8,203.1 486.9,205.1 484.9,206.8C482.9,208.5 481.2,209.1 479.8,210.6C478.4,212.1 477.7,213.8 476.6,215.7C475.6,217.6 474.4,220.4 473.5,222.1C472.6,223.8 471.8,225.3 471.5,226.0"/><path d="M527.3,195.4C526.4,195.3 523.7,195.1 522.2,194.7C520.7,194.3 519.7,193.0 518.4,192.8C517.1,192.6 516.0,193.1 514.5,193.5C513.0,193.9 511.2,194.5 509.5,195.4C507.8,196.3 505.9,197.7 504.4,199.2C502.9,200.7 501.6,202.6 500.5,204.3C499.4,206.0 499.1,207.9 498.0,209.4C496.9,210.9 495.7,212.3 494.2,213.2C492.7,214.0 490.7,214.5 489.1,214.5C487.6,214.5 486.2,213.0 484.9,213.2C483.6,213.4 482.3,214.4 481.1,215.7C479.9,217.0 478.8,219.3 477.9,220.8C477.0,222.3 476.3,223.9 476.0,224.5"/><path d="M536.8,201.1C536.1,201.4 534.2,202.8 532.4,203.0C530.6,203.2 528.1,202.7 526.0,202.4C523.9,202.1 521.5,201.2 519.6,201.1C517.7,201.0 516.2,201.2 514.5,201.7C512.8,202.2 510.9,203.2 509.5,204.3C508.1,205.4 507.3,206.4 506.3,208.1C505.3,209.8 504.7,212.6 503.7,214.5C502.7,216.4 501.7,218.4 500.5,219.5C499.3,220.6 498.2,220.8 496.7,220.8C495.2,220.8 493.1,220.1 491.3,219.5C489.6,218.9 487.7,216.8 486.2,217.0C484.7,217.2 483.3,219.6 482.4,220.8C481.4,222.0 480.8,223.5 480.5,224.0"/><path d="M513.3,175.0C513.5,175.6 513.5,177.8 514.5,178.8C515.5,179.8 517.7,180.6 519.6,181.1C521.5,181.6 524.2,181.7 526.0,182.0C527.8,182.3 529.8,182.8 530.5,182.9"/><path d="M522.0,150.0C523.3,150.3 527.5,150.8 530.0,152.0C532.5,153.2 535.5,155.2 537.0,157.0C538.5,158.8 539.3,161.2 539.0,163.0C538.7,164.8 536.8,166.8 535.0,168.0C533.2,169.2 530.2,169.3 528.0,170.0C525.8,170.7 523.3,171.0 522.0,172.0C520.7,173.0 520.3,175.3 520.0,176.0"/><path d="M524.0,197.0C525.3,197.2 529.3,198.2 532.0,198.0C534.7,197.8 538.7,196.3 540.0,196.0"/><path d="M520.0,225.0C521.3,223.7 525.3,218.5 528.0,217.0C530.7,215.5 533.3,215.8 536.0,216.0C538.7,216.2 542.7,217.7 544.0,218.0"/><path d="M430.0,280.0C430.7,279.7 432.7,278.0 434.0,278.0C435.3,278.0 437.3,279.7 438.0,280.0"/><path d="M454.0,272.0C455.0,272.8 458.5,275.7 460.0,277.0C461.5,278.3 462.5,279.5 463.0,280.0"/><path d="M470.0,274.0C470.8,274.7 473.8,277.0 475.0,278.0C476.2,279.0 476.7,279.7 477.0,280.0"/><path d="M480.0,273.0C481.0,273.8 484.5,276.8 486.0,278.0C487.5,279.2 488.5,279.7 489.0,280.0"/></g><polygon points="59.0,18.0 76.0,16.5 133.7,50.3 139.1,57.6 142.9,62.3 140.6,67.8 142.9,72.4 148.8,76.2 149.3,82.3 155.9,87.5 170.6,91.3 184.0,92.5 195.7,95.2 202.4,102.0 214.1,110.3 215.8,135.4 228.5,151.0 228.5,170.0 224.7,180.0 223.3,187.7 222.5,200.5 221.2,220.0 219.5,232.7 212.9,242.9 204.0,256.5 194.5,268.3 172.0,271.6 157.0,263.5 143.0,264.5 138.0,261.5 128.0,260.0 118.0,254.0 103.0,239.0 89.0,224.0 83.0,221.0 75.0,210.0 67.3,205.5 60.9,200.4 53.9,198.5 47.3,191.5 35.0,190.5 31.0,180.5 27.6,170.0 26.2,152.2 19.5,145.0 18.3,135.0 18.0,128.0 18.7,114.5 23.4,96.0 30.1,71.0 36.0,50.0" fill="none" stroke="#0a0a0a" stroke-width="1.5" stroke-linejoin="round"/><polygon points="353.0,18.0 370.0,16.5 427.7,50.3 433.1,57.6 436.9,62.3 434.6,67.8 436.9,72.4 442.8,76.2 443.3,82.3 449.9,87.5 464.6,91.3 478.0,92.5 489.7,95.2 496.4,102.0 508.1,110.3 509.8,135.4 522.5,151.0 522.5,170.0 518.7,180.0 517.3,187.7 516.5,200.5 515.2,220.0 513.5,232.7 506.9,242.9 498.0,256.5 488.5,268.3 466.0,271.6 451.0,263.5 437.0,264.5 432.0,261.5 422.0,260.0 412.0,254.0 397.0,239.0 383.0,224.0 377.0,221.0 369.0,210.0 361.3,205.5 354.9,200.4 347.9,198.5 341.3,191.5 329.0,190.5 325.0,180.5 321.6,170.0 320.2,152.2 313.5,145.0 312.3,135.0 312.0,128.0 312.7,114.5 317.4,96.0 324.1,71.0 330.0,50.0" fill="none" stroke="#0a0a0a" stroke-width="1.5" stroke-linejoin="round"/><g font-family="'Liberation Sans',sans-serif" font-size="6.7" text-anchor="middle" fill="#333"><text x="88.0" y="93.7" transform="rotate(30 88.0 91.5)" stroke="#fff" stroke-width="2.6" stroke-linejoin="round" paint-order="stroke">16</text><text x="110.7" y="106.2" transform="rotate(55 110.7 104.0)" stroke="#fff" stroke-width="2.6" stroke-linejoin="round" paint-order="stroke">18</text><text x="119.8" y="101.0" transform="rotate(75 119.8 98.8)" stroke="#fff" stroke-width="2.6" stroke-linejoin="round" paint-order="stroke">20</text><text x="139.7" y="92.4" transform="rotate(60 139.7 90.2)" stroke="#fff" stroke-width="2.6" stroke-linejoin="round" paint-order="stroke">22</text><text x="172.3" y="102.5" transform="rotate(20 172.3 100.3)" stroke="#fff" stroke-width="2.6" stroke-linejoin="round" paint-order="stroke">24</text><text x="221.1" y="125.0" transform="rotate(-75 221.1 122.8)" stroke="#fff" stroke-width="2.6" stroke-linejoin="round" paint-order="stroke">26</text><text x="20.9" y="127.5" transform="rotate(-80 20.9 125.3)" stroke="#fff" stroke-width="2.6" stroke-linejoin="round" paint-order="stroke">16</text><text x="88.5" y="116.2" transform="rotate(35 88.5 114.0)" stroke="#fff" stroke-width="2.6" stroke-linejoin="round" paint-order="stroke">14</text><text x="72.0" y="120.2" transform="rotate(-15 72.0 118.0)" stroke="#fff" stroke-width="2.6" stroke-linejoin="round" paint-order="stroke">12</text><text x="71.0" y="131.7" transform="rotate(-20 71.0 129.5)" stroke="#fff" stroke-width="2.6" stroke-linejoin="round" paint-order="stroke">10</text><text x="56.0" y="196.8" transform="rotate(-65 56.0 194.6)" stroke="#fff" stroke-width="2.6" stroke-linejoin="round" paint-order="stroke">1</text><text x="67.6" y="204.8" transform="rotate(-50 67.6 202.6)" stroke="#fff" stroke-width="2.6" stroke-linejoin="round" paint-order="stroke">2</text><text x="78.7" y="204.8" transform="rotate(-55 78.7 202.6)" stroke="#fff" stroke-width="2.6" stroke-linejoin="round" paint-order="stroke">4</text><text x="91.6" y="208.2" transform="rotate(-72 91.6 206.0)" stroke="#fff" stroke-width="2.6" stroke-linejoin="round" paint-order="stroke">6</text><text x="105.5" y="211.8" transform="rotate(-68 105.5 209.6)" stroke="#fff" stroke-width="2.6" stroke-linejoin="round" paint-order="stroke">8</text><text x="183.3" y="189.7" transform="rotate(0 183.3 187.5)" stroke="#fff" stroke-width="2.6" stroke-linejoin="round" paint-order="stroke">28</text><text x="193.2" y="202.4" transform="rotate(-55 193.2 200.2)" stroke="#fff" stroke-width="2.6" stroke-linejoin="round" paint-order="stroke">26</text><text x="202.1" y="209.3" transform="rotate(-60 202.1 207.1)" stroke="#fff" stroke-width="2.6" stroke-linejoin="round" paint-order="stroke">22</text><text x="216.1" y="202.0" transform="rotate(-45 216.1 199.8)" stroke="#fff" stroke-width="2.6" stroke-linejoin="round" paint-order="stroke">22</text><text x="174.4" y="211.6" transform="rotate(-70 174.4 209.4)" stroke="#fff" stroke-width="2.6" stroke-linejoin="round" paint-order="stroke">30</text><text x="171.2" y="220.2" transform="rotate(-70 171.2 218.0)" stroke="#fff" stroke-width="2.6" stroke-linejoin="round" paint-order="stroke">28</text><text x="212.9" y="225.4" transform="rotate(-65 212.9 223.2)" stroke="#fff" stroke-width="2.6" stroke-linejoin="round" paint-order="stroke">18</text><text x="211.0" y="239.4" transform="rotate(30 211.0 237.2)" stroke="#fff" stroke-width="2.6" stroke-linejoin="round" paint-order="stroke">16</text><text x="179.0" y="260.0" transform="rotate(-50 179.0 257.8)" stroke="#fff" stroke-width="2.6" stroke-linejoin="round" paint-order="stroke">6</text><text x="122.5" y="268.4" transform="rotate(-60 122.5 266.2)" stroke="#fff" stroke-width="2.6" stroke-linejoin="round" paint-order="stroke">0</text></g><g font-family="'Liberation Sans',sans-serif" font-size="7.2" text-anchor="middle" fill="#333"><text x="226.3" y="244.1" transform="rotate(-45 226.3 241.6)" stroke="#fff" stroke-width="1.6" stroke-linejoin="round" paint-order="stroke">14</text><text x="226.9" y="256.9" transform="rotate(0 226.9 254.4)" stroke="#fff" stroke-width="1.6" stroke-linejoin="round" paint-order="stroke">12</text><text x="237.1" y="267.7" transform="rotate(30 237.1 265.2)" stroke="#fff" stroke-width="1.6" stroke-linejoin="round" paint-order="stroke">10</text></g><g font-family="'Liberation Sans',sans-serif" font-size="6.7" text-anchor="middle" fill="#333"><text x="382.0" y="93.7" transform="rotate(30 382.0 91.5)" stroke="#fff" stroke-width="2.6" stroke-linejoin="round" paint-order="stroke">16</text><text x="404.7" y="106.2" transform="rotate(55 404.7 104.0)" stroke="#fff" stroke-width="2.6" stroke-linejoin="round" paint-order="stroke">18</text><text x="413.8" y="101.0" transform="rotate(75 413.8 98.8)" stroke="#fff" stroke-width="2.6" stroke-linejoin="round" paint-order="stroke">20</text><text x="433.7" y="92.4" transform="rotate(60 433.7 90.2)" stroke="#fff" stroke-width="2.6" stroke-linejoin="round" paint-order="stroke">22</text><text x="466.3" y="102.5" transform="rotate(20 466.3 100.3)" stroke="#fff" stroke-width="2.6" stroke-linejoin="round" paint-order="stroke">24</text><text x="515.1" y="125.0" transform="rotate(-75 515.1 122.8)" stroke="#fff" stroke-width="2.6" stroke-linejoin="round" paint-order="stroke">26</text><text x="314.9" y="127.5" transform="rotate(-80 314.9 125.3)" stroke="#fff" stroke-width="2.6" stroke-linejoin="round" paint-order="stroke">16</text><text x="382.5" y="116.2" transform="rotate(35 382.5 114.0)" stroke="#fff" stroke-width="2.6" stroke-linejoin="round" paint-order="stroke">14</text><text x="366.0" y="120.2" transform="rotate(-15 366.0 118.0)" stroke="#fff" stroke-width="2.6" stroke-linejoin="round" paint-order="stroke">12</text><text x="365.0" y="131.7" transform="rotate(-20 365.0 129.5)" stroke="#fff" stroke-width="2.6" stroke-linejoin="round" paint-order="stroke">10</text><text x="350.0" y="196.8" transform="rotate(-65 350.0 194.6)" stroke="#fff" stroke-width="2.6" stroke-linejoin="round" paint-order="stroke">1</text><text x="361.6" y="204.8" transform="rotate(-50 361.6 202.6)" stroke="#fff" stroke-width="2.6" stroke-linejoin="round" paint-order="stroke">2</text><text x="372.7" y="204.8" transform="rotate(-55 372.7 202.6)" stroke="#fff" stroke-width="2.6" stroke-linejoin="round" paint-order="stroke">4</text><text x="385.6" y="208.2" transform="rotate(-72 385.6 206.0)" stroke="#fff" stroke-width="2.6" stroke-linejoin="round" paint-order="stroke">6</text><text x="399.5" y="211.8" transform="rotate(-68 399.5 209.6)" stroke="#fff" stroke-width="2.6" stroke-linejoin="round" paint-order="stroke">8</text><text x="477.3" y="189.7" transform="rotate(0 477.3 187.5)" stroke="#fff" stroke-width="2.6" stroke-linejoin="round" paint-order="stroke">28</text><text x="487.2" y="202.4" transform="rotate(-55 487.2 200.2)" stroke="#fff" stroke-width="2.6" stroke-linejoin="round" paint-order="stroke">26</text><text x="496.1" y="209.3" transform="rotate(-60 496.1 207.1)" stroke="#fff" stroke-width="2.6" stroke-linejoin="round" paint-order="stroke">22</text><text x="510.1" y="202.0" transform="rotate(-45 510.1 199.8)" stroke="#fff" stroke-width="2.6" stroke-linejoin="round" paint-order="stroke">22</text><text x="468.4" y="211.6" transform="rotate(-70 468.4 209.4)" stroke="#fff" stroke-width="2.6" stroke-linejoin="round" paint-order="stroke">30</text><text x="465.2" y="220.2" transform="rotate(-70 465.2 218.0)" stroke="#fff" stroke-width="2.6" stroke-linejoin="round" paint-order="stroke">28</text><text x="506.9" y="225.4" transform="rotate(-65 506.9 223.2)" stroke="#fff" stroke-width="2.6" stroke-linejoin="round" paint-order="stroke">18</text><text x="505.0" y="239.4" transform="rotate(30 505.0 237.2)" stroke="#fff" stroke-width="2.6" stroke-linejoin="round" paint-order="stroke">16</text><text x="473.0" y="260.0" transform="rotate(-50 473.0 257.8)" stroke="#fff" stroke-width="2.6" stroke-linejoin="round" paint-order="stroke">6</text><text x="416.5" y="268.4" transform="rotate(-60 416.5 266.2)" stroke="#fff" stroke-width="2.6" stroke-linejoin="round" paint-order="stroke">0</text></g><g font-family="'Liberation Sans',sans-serif" font-size="7.2" text-anchor="middle" fill="#333"><text x="520.3" y="244.1" transform="rotate(-45 520.3 241.6)" stroke="#fff" stroke-width="1.6" stroke-linejoin="round" paint-order="stroke">14</text><text x="520.9" y="256.9" transform="rotate(0 520.9 254.4)" stroke="#fff" stroke-width="1.6" stroke-linejoin="round" paint-order="stroke">12</text><text x="531.1" y="267.7" transform="rotate(30 531.1 265.2)" stroke="#fff" stroke-width="1.6" stroke-linejoin="round" paint-order="stroke">10</text></g><g transform="translate(232.2,52.0)">
<circle r="13.4" fill="#fff" stroke="#111" stroke-width="1.7"/>
<circle r="11" fill="none" stroke="#cfcfcf" stroke-width="0.6"/>
<path d="M0,-21.2 L-13.3,14 L0,0.8 Z" fill="url(#ngr)"/>
<path d="M0,-21.2 L13.3,14 L0,0.8 Z" fill="#fff"/>
<path d="M0,-21.2 L-13.3,14 L0,0.8 L13.3,14 Z" fill="none" stroke="#111" stroke-width="1.7" stroke-linejoin="miter"/>
</g><g transform="translate(520.2,52.0)">
<circle r="13.4" fill="#fff" stroke="#111" stroke-width="1.7"/>
<circle r="11" fill="none" stroke="#cfcfcf" stroke-width="0.6"/>
<path d="M0,-21.2 L-13.3,14 L0,0.8 Z" fill="url(#ngr)"/>
<path d="M0,-21.2 L13.3,14 L0,0.8 Z" fill="#fff"/>
<path d="M0,-21.2 L-13.3,14 L0,0.8 L13.3,14 Z" fill="none" stroke="#111" stroke-width="1.7" stroke-linejoin="miter"/>
</g><g>
<rect x="13.8" y="272.2" width="78.7" height="5.6" fill="#fff" stroke="#444" stroke-width="0.7"/>
<rect x="13.8" y="272" width="39.2" height="6" fill="#000"/>
<text font-family="'DejaVu Sans Condensed','DejaVu Sans',sans-serif" font-size="12.4" fill="#111" text-anchor="middle" x="14.0" y="266.2">0</text>
<text font-family="'DejaVu Sans Condensed','DejaVu Sans',sans-serif" font-size="12.4" fill="#111" text-anchor="middle" x="53.0" y="266.2">5</text>
<text font-family="'DejaVu Sans Condensed','DejaVu Sans',sans-serif" font-size="12.4" fill="#111" text-anchor="middle" x="102.0" y="266.2" textLength="33" lengthAdjust="spacingAndGlyphs">10 km</text>
</g><g>
<rect x="301.3" y="272.2" width="78.7" height="5.6" fill="#fff" stroke="#444" stroke-width="0.7"/>
<rect x="301.3" y="272" width="39.2" height="6" fill="#000"/>
<text font-family="'DejaVu Sans Condensed','DejaVu Sans',sans-serif" font-size="12.4" fill="#111" text-anchor="middle" x="301.5" y="266.2">0</text>
<text font-family="'DejaVu Sans Condensed','DejaVu Sans',sans-serif" font-size="12.4" fill="#111" text-anchor="middle" x="340.5" y="266.2">5</text>
<text font-family="'DejaVu Sans Condensed','DejaVu Sans',sans-serif" font-size="12.4" fill="#111" text-anchor="middle" x="389.5" y="266.2" textLength="33" lengthAdjust="spacingAndGlyphs">10 km</text>
</g><text x="128.2" y="315.4" textLength="249.6" lengthAdjust="spacingAndGlyphs" font-family="'DejaVu Sans Condensed','DejaVu Sans',sans-serif" font-size="16.6" fill="#111" stroke="#111" stroke-width="0.2">COMBINED VULNERABILIY INDEX</text>
<text x="386.8" y="315.6" font-family="'DejaVu Serif','Liberation Serif',serif" font-style="italic" font-size="16.5" fill="#111">υ</text><g font-family="'DejaVu Sans Condensed','DejaVu Sans',sans-serif" fill="#111" stroke="#111" stroke-width="0.15">
<rect x="4.6" y="331.4" width="14" height="6.8" rx="1" fill="#fff" stroke="#111" stroke-width="1.2"/>
<line x1="4.6" y1="349.7" x2="18.6" y2="349.7" stroke="#3a8fd0" stroke-width="1.1"/>
<text x="26.2" y="339" font-size="11.85">Domain of interest</text>
<text x="26.2" y="354" font-size="11.85">Piezometric contours</text>
<text x="26.2" y="368.4" font-size="11.85">(in meters)</text>
<text x="154.4" y="345.4" font-size="15.2">ln(<tspan font-family="'DejaVu Serif','Liberation Serif',serif" font-style="italic" font-size="15.5">υ</tspan>) - 1 km<tspan dy="-6" font-size="9">2</tspan></text>
<rect x="154.20000000000002" y="365.8" width="13.6" height="55" fill="url(#lg)"/>
<text x="176.1" y="377" font-size="12">4</text>
<text x="176.1" y="418" font-size="12">0</text>
</g><g font-family="'DejaVu Sans Condensed','DejaVu Sans',sans-serif" fill="#111" stroke="#111" stroke-width="0.15">
<rect x="283.90000000000003" y="331.4" width="14" height="6.8" rx="1" fill="#fff" stroke="#111" stroke-width="1.2"/>
<line x1="283.90000000000003" y1="349.7" x2="297.90000000000003" y2="349.7" stroke="#3a8fd0" stroke-width="1.1"/>
<text x="305.5" y="339" font-size="11.85">Domain of interest</text>
<text x="305.5" y="354" font-size="11.85">Piezometric contours</text>
<text x="305.5" y="368.4" font-size="11.85">(in meters)</text>
<text x="433.4" y="345.4" font-size="15.2">ln(<tspan font-family="'DejaVu Serif','Liberation Serif',serif" font-style="italic" font-size="15.5">υ</tspan>) - 0.01 km<tspan dy="-6" font-size="9">2</tspan></text>
<rect x="433.2" y="365.8" width="13.6" height="55" fill="url(#lg)"/>
<text x="455.09999999999997" y="377" font-size="12">6</text>
<text x="455.09999999999997" y="418" font-size="12">0</text>
</g></svg></body></html>
